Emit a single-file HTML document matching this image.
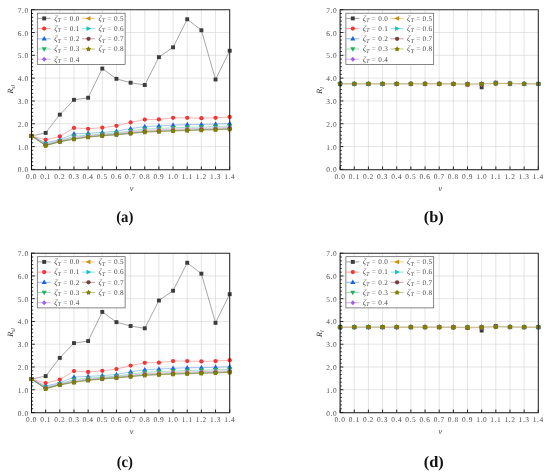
<!DOCTYPE html>
<html><head><meta charset="utf-8"><title>Figure</title>
<style>
html,body{margin:0;padding:0;background:#fff;}
svg{display:block}
text{font-family:"Liberation Serif",serif;text-rendering:geometricPrecision;}
.tk{font-size:7.4px;fill:#4c4c4c;letter-spacing:0.6px}
.ax{font-size:8px;fill:#333;font-style:italic}
.sub{font-size:5.6px;font-style:italic}
.lg{font-size:7.2px;fill:#4a4a4a;letter-spacing:0.3px}
.z{font-style:italic;font-size:8px}
.cap{font-size:16px;fill:#111;font-weight:bold;font-family:"Liberation Serif","DejaVu Serif",serif}
</style></head><body>
<svg width="550" height="476" viewBox="0 0 550 476">
<rect width="550" height="476" fill="#fff"/>
<path d="M45.66 9.7V169.39999999999998M59.81 9.7V169.39999999999998M73.97 9.7V169.39999999999998M88.13 9.7V169.39999999999998M102.29 9.7V169.39999999999998M116.44 9.7V169.39999999999998M130.60 9.7V169.39999999999998M144.76 9.7V169.39999999999998M158.91 9.7V169.39999999999998M173.07 9.7V169.39999999999998M187.23 9.7V169.39999999999998M201.39 9.7V169.39999999999998M215.54 9.7V169.39999999999998M31.5 146.59H229.7M31.5 123.77H229.7M31.5 100.96H229.7M31.5 78.14H229.7M31.5 55.33H229.7M31.5 32.51H229.7" stroke="#d4d4d4" stroke-width="0.6" fill="none"/>
<path d="M31.50 135.86L45.66 132.90L59.81 114.65L73.97 99.82L88.13 97.76L102.29 68.56L116.44 78.83L130.60 82.71L144.76 84.99L158.91 57.15L173.07 47.34L187.23 19.28L201.39 30.23L215.54 79.51L229.70 50.77" stroke="#3c3c3c" stroke-width="0.5" fill="none" stroke-opacity="0.9"/>
<rect x="29.55" y="133.91" width="3.90" height="3.90" fill="#3c3c3c"/>
<rect x="43.71" y="130.95" width="3.90" height="3.90" fill="#3c3c3c"/>
<rect x="57.86" y="112.70" width="3.90" height="3.90" fill="#3c3c3c"/>
<rect x="72.02" y="97.87" width="3.90" height="3.90" fill="#3c3c3c"/>
<rect x="86.18" y="95.81" width="3.90" height="3.90" fill="#3c3c3c"/>
<rect x="100.34" y="66.61" width="3.90" height="3.90" fill="#3c3c3c"/>
<rect x="114.49" y="76.88" width="3.90" height="3.90" fill="#3c3c3c"/>
<rect x="128.65" y="80.76" width="3.90" height="3.90" fill="#3c3c3c"/>
<rect x="142.81" y="83.04" width="3.90" height="3.90" fill="#3c3c3c"/>
<rect x="156.96" y="55.20" width="3.90" height="3.90" fill="#3c3c3c"/>
<rect x="171.12" y="45.39" width="3.90" height="3.90" fill="#3c3c3c"/>
<rect x="185.28" y="17.33" width="3.90" height="3.90" fill="#3c3c3c"/>
<rect x="199.44" y="28.28" width="3.90" height="3.90" fill="#3c3c3c"/>
<rect x="213.59" y="77.56" width="3.90" height="3.90" fill="#3c3c3c"/>
<rect x="227.75" y="48.82" width="3.90" height="3.90" fill="#3c3c3c"/>
<path d="M31.50 135.86L45.66 139.86L59.81 136.43L73.97 127.88L88.13 128.79L102.29 127.65L116.44 125.82L130.60 122.40L144.76 119.55L158.91 119.44L173.07 117.84L187.23 117.84L201.39 118.18L215.54 117.84L229.70 116.93" stroke="#f23535" stroke-width="0.5" fill="none" stroke-opacity="0.75"/>
<circle cx="31.50" cy="135.86" r="2.15" fill="#f23535"/>
<circle cx="45.66" cy="139.86" r="2.15" fill="#f23535"/>
<circle cx="59.81" cy="136.43" r="2.15" fill="#f23535"/>
<circle cx="73.97" cy="127.88" r="2.15" fill="#f23535"/>
<circle cx="88.13" cy="128.79" r="2.15" fill="#f23535"/>
<circle cx="102.29" cy="127.65" r="2.15" fill="#f23535"/>
<circle cx="116.44" cy="125.82" r="2.15" fill="#f23535"/>
<circle cx="130.60" cy="122.40" r="2.15" fill="#f23535"/>
<circle cx="144.76" cy="119.55" r="2.15" fill="#f23535"/>
<circle cx="158.91" cy="119.44" r="2.15" fill="#f23535"/>
<circle cx="173.07" cy="117.84" r="2.15" fill="#f23535"/>
<circle cx="187.23" cy="117.84" r="2.15" fill="#f23535"/>
<circle cx="201.39" cy="118.18" r="2.15" fill="#f23535"/>
<circle cx="215.54" cy="117.84" r="2.15" fill="#f23535"/>
<circle cx="229.70" cy="116.93" r="2.15" fill="#f23535"/>
<path d="M31.50 135.86L45.66 142.71L59.81 139.74L73.97 133.81L88.13 133.24L102.29 132.44L116.44 131.30L130.60 128.56L144.76 126.58L158.91 125.82L173.07 125.14L187.23 124.57L201.39 124.46L215.54 124.00L229.70 123.54" stroke="#1a62e0" stroke-width="0.5" fill="none" stroke-opacity="0.75"/>
<polygon points="31.50,133.01 28.93,137.63 34.06,137.63" fill="#1a62e0"/>
<polygon points="45.66,139.86 43.09,144.47 48.22,144.47" fill="#1a62e0"/>
<polygon points="59.81,136.89 57.25,141.51 62.38,141.51" fill="#1a62e0"/>
<polygon points="73.97,130.96 71.41,135.58 76.54,135.58" fill="#1a62e0"/>
<polygon points="88.13,130.39 85.56,135.01 90.69,135.01" fill="#1a62e0"/>
<polygon points="102.29,129.59 99.72,134.21 104.85,134.21" fill="#1a62e0"/>
<polygon points="116.44,128.45 113.88,133.07 119.01,133.07" fill="#1a62e0"/>
<polygon points="130.60,125.71 128.03,130.33 133.16,130.33" fill="#1a62e0"/>
<polygon points="144.76,123.73 142.19,128.34 147.32,128.34" fill="#1a62e0"/>
<polygon points="158.91,122.97 156.35,127.59 161.48,127.59" fill="#1a62e0"/>
<polygon points="173.07,122.29 170.51,126.91 175.64,126.91" fill="#1a62e0"/>
<polygon points="187.23,121.72 184.66,126.34 189.79,126.34" fill="#1a62e0"/>
<polygon points="201.39,121.61 198.82,126.22 203.95,126.22" fill="#1a62e0"/>
<polygon points="215.54,121.15 212.98,125.77 218.11,125.77" fill="#1a62e0"/>
<polygon points="229.70,120.69 227.13,125.31 232.26,125.31" fill="#1a62e0"/>
<path d="M31.50 135.86L45.66 144.04L59.81 140.67L73.97 136.27L88.13 135.04L102.29 133.98L116.44 132.89L130.60 130.82L144.76 129.11L158.91 128.43L173.07 127.81L187.23 127.29L201.39 127.04L215.54 126.62L229.70 126.11" stroke="#22b060" stroke-width="0.5" fill="none" stroke-opacity="0.75"/>
<polygon points="31.50,138.71 28.93,134.10 34.06,134.10" fill="#22b060"/>
<polygon points="45.66,146.89 43.09,142.27 48.22,142.27" fill="#22b060"/>
<polygon points="59.81,143.52 57.25,138.90 62.38,138.90" fill="#22b060"/>
<polygon points="73.97,139.12 71.41,134.51 76.54,134.51" fill="#22b060"/>
<polygon points="88.13,137.89 85.56,133.27 90.69,133.27" fill="#22b060"/>
<polygon points="102.29,136.83 99.72,132.21 104.85,132.21" fill="#22b060"/>
<polygon points="116.44,135.74 113.88,131.12 119.01,131.12" fill="#22b060"/>
<polygon points="130.60,133.67 128.03,129.05 133.16,129.05" fill="#22b060"/>
<polygon points="144.76,131.96 142.19,127.35 147.32,127.35" fill="#22b060"/>
<polygon points="158.91,131.28 156.35,126.67 161.48,126.67" fill="#22b060"/>
<polygon points="173.07,130.66 170.51,126.04 175.64,126.04" fill="#22b060"/>
<polygon points="187.23,130.14 184.66,125.52 189.79,125.52" fill="#22b060"/>
<polygon points="201.39,129.89 198.82,125.28 203.95,125.28" fill="#22b060"/>
<polygon points="215.54,129.47 212.98,124.85 218.11,124.85" fill="#22b060"/>
<polygon points="229.70,128.96 227.13,124.34 232.26,124.34" fill="#22b060"/>
<path d="M31.50 135.86L45.66 144.72L59.81 141.14L73.97 137.53L88.13 135.95L102.29 134.77L116.44 133.70L130.60 131.98L144.76 130.41L158.91 129.77L173.07 129.17L187.23 128.68L201.39 128.37L215.54 127.96L229.70 127.42" stroke="#a25af0" stroke-width="0.5" fill="none" stroke-opacity="0.75"/>
<polygon points="31.50,133.31 29.26,135.86 31.50,138.41 33.74,135.86" fill="#a25af0"/>
<polygon points="45.66,142.17 43.41,144.72 45.66,147.27 47.90,144.72" fill="#a25af0"/>
<polygon points="59.81,138.59 57.57,141.14 59.81,143.69 62.06,141.14" fill="#a25af0"/>
<polygon points="73.97,134.98 71.73,137.53 73.97,140.08 76.22,137.53" fill="#a25af0"/>
<polygon points="88.13,133.40 85.88,135.95 88.13,138.50 90.37,135.95" fill="#a25af0"/>
<polygon points="102.29,132.22 100.04,134.77 102.29,137.32 104.53,134.77" fill="#a25af0"/>
<polygon points="116.44,131.15 114.20,133.70 116.44,136.25 118.69,133.70" fill="#a25af0"/>
<polygon points="130.60,129.43 128.36,131.98 130.60,134.53 132.84,131.98" fill="#a25af0"/>
<polygon points="144.76,127.86 142.51,130.41 144.76,132.96 147.00,130.41" fill="#a25af0"/>
<polygon points="158.91,127.22 156.67,129.77 158.91,132.32 161.16,129.77" fill="#a25af0"/>
<polygon points="173.07,126.62 170.83,129.17 173.07,131.72 175.32,129.17" fill="#a25af0"/>
<polygon points="187.23,126.13 184.98,128.68 187.23,131.23 189.47,128.68" fill="#a25af0"/>
<polygon points="201.39,125.82 199.14,128.37 201.39,130.92 203.63,128.37" fill="#a25af0"/>
<polygon points="215.54,125.41 213.30,127.96 215.54,130.51 217.79,127.96" fill="#a25af0"/>
<polygon points="229.70,124.87 227.46,127.42 229.70,129.97 231.94,127.42" fill="#a25af0"/>
<path d="M31.50 135.86L45.66 145.14L59.81 141.43L73.97 138.30L88.13 136.51L102.29 135.25L116.44 134.20L130.60 132.68L144.76 131.20L158.91 130.58L173.07 130.00L187.23 129.53L201.39 129.17L215.54 128.77L229.70 128.22" stroke="#c8900c" stroke-width="0.5" fill="none" stroke-opacity="0.75"/>
<polygon points="28.75,135.86 33.42,133.66 33.42,138.06" fill="#c8900c"/>
<polygon points="42.91,145.14 47.58,142.94 47.58,147.34" fill="#c8900c"/>
<polygon points="57.06,141.43 61.74,139.23 61.74,143.63" fill="#c8900c"/>
<polygon points="71.22,138.30 75.90,136.10 75.90,140.50" fill="#c8900c"/>
<polygon points="85.38,136.51 90.05,134.31 90.05,138.71" fill="#c8900c"/>
<polygon points="99.54,135.25 104.21,133.05 104.21,137.45" fill="#c8900c"/>
<polygon points="113.69,134.20 118.37,132.00 118.37,136.40" fill="#c8900c"/>
<polygon points="127.85,132.68 132.53,130.48 132.53,134.88" fill="#c8900c"/>
<polygon points="142.01,131.20 146.68,129.00 146.68,133.40" fill="#c8900c"/>
<polygon points="156.16,130.58 160.84,128.38 160.84,132.78" fill="#c8900c"/>
<polygon points="170.32,130.00 175.00,127.80 175.00,132.20" fill="#c8900c"/>
<polygon points="184.48,129.53 189.15,127.33 189.15,131.73" fill="#c8900c"/>
<polygon points="198.64,129.17 203.31,126.97 203.31,131.37" fill="#c8900c"/>
<polygon points="212.79,128.77 217.47,126.57 217.47,130.97" fill="#c8900c"/>
<polygon points="226.95,128.22 231.62,126.02 231.62,130.42" fill="#c8900c"/>
<path d="M31.50 135.86L45.66 145.38L59.81 141.59L73.97 138.74L88.13 136.83L102.29 135.52L116.44 134.48L130.60 133.08L144.76 131.65L158.91 131.04L173.07 130.48L187.23 130.01L201.39 129.63L215.54 129.24L229.70 128.68" stroke="#12c2c2" stroke-width="0.5" fill="none" stroke-opacity="0.75"/>
<polygon points="34.25,135.86 29.57,133.66 29.57,138.06" fill="#12c2c2"/>
<polygon points="48.41,145.38 43.73,143.18 43.73,147.58" fill="#12c2c2"/>
<polygon points="62.56,141.59 57.89,139.39 57.89,143.79" fill="#12c2c2"/>
<polygon points="76.72,138.74 72.05,136.54 72.05,140.94" fill="#12c2c2"/>
<polygon points="90.88,136.83 86.20,134.63 86.20,139.03" fill="#12c2c2"/>
<polygon points="105.04,135.52 100.36,133.32 100.36,137.72" fill="#12c2c2"/>
<polygon points="119.19,134.48 114.52,132.28 114.52,136.68" fill="#12c2c2"/>
<polygon points="133.35,133.08 128.67,130.88 128.67,135.28" fill="#12c2c2"/>
<polygon points="147.51,131.65 142.83,129.45 142.83,133.85" fill="#12c2c2"/>
<polygon points="161.66,131.04 156.99,128.84 156.99,133.24" fill="#12c2c2"/>
<polygon points="175.82,130.48 171.15,128.28 171.15,132.68" fill="#12c2c2"/>
<polygon points="189.98,130.01 185.30,127.81 185.30,132.21" fill="#12c2c2"/>
<polygon points="204.14,129.63 199.46,127.43 199.46,131.83" fill="#12c2c2"/>
<polygon points="218.29,129.24 213.62,127.04 213.62,131.44" fill="#12c2c2"/>
<polygon points="232.45,128.68 227.77,126.48 227.77,130.88" fill="#12c2c2"/>
<path d="M31.50 135.86L45.66 145.55L59.81 141.71L73.97 139.07L88.13 137.07L102.29 135.73L116.44 134.69L130.60 133.38L144.76 131.99L158.91 131.39L173.07 130.83L187.23 130.37L201.39 129.98L215.54 129.58L229.70 129.02" stroke="#7a3c3c" stroke-width="0.5" fill="none" stroke-opacity="0.75"/>
<circle cx="31.50" cy="135.86" r="2.15" fill="#7a3c3c"/>
<circle cx="45.66" cy="145.55" r="2.15" fill="#7a3c3c"/>
<circle cx="59.81" cy="141.71" r="2.15" fill="#7a3c3c"/>
<circle cx="73.97" cy="139.07" r="2.15" fill="#7a3c3c"/>
<circle cx="88.13" cy="137.07" r="2.15" fill="#7a3c3c"/>
<circle cx="102.29" cy="135.73" r="2.15" fill="#7a3c3c"/>
<circle cx="116.44" cy="134.69" r="2.15" fill="#7a3c3c"/>
<circle cx="130.60" cy="133.38" r="2.15" fill="#7a3c3c"/>
<circle cx="144.76" cy="131.99" r="2.15" fill="#7a3c3c"/>
<circle cx="158.91" cy="131.39" r="2.15" fill="#7a3c3c"/>
<circle cx="173.07" cy="130.83" r="2.15" fill="#7a3c3c"/>
<circle cx="187.23" cy="130.37" r="2.15" fill="#7a3c3c"/>
<circle cx="201.39" cy="129.98" r="2.15" fill="#7a3c3c"/>
<circle cx="215.54" cy="129.58" r="2.15" fill="#7a3c3c"/>
<circle cx="229.70" cy="129.02" r="2.15" fill="#7a3c3c"/>
<path d="M31.50 135.86L45.66 145.67L59.81 141.79L73.97 139.29L88.13 137.23L102.29 135.86L116.44 134.84L130.60 133.58L144.76 132.21L158.91 131.62L173.07 131.07L187.23 130.62L201.39 130.21L215.54 129.82L229.70 129.25" stroke="#808000" stroke-width="0.5" fill="none" stroke-opacity="0.75"/>
<polygon points="31.50,133.06 32.49,134.50 34.16,135.00 33.10,136.38 33.15,138.13 31.50,137.54 29.85,138.13 29.90,136.38 28.84,135.00 30.51,134.50" fill="#808000"/>
<polygon points="45.66,142.87 46.64,144.31 48.32,144.81 47.25,146.19 47.30,147.94 45.66,147.35 44.01,147.94 44.06,146.19 42.99,144.81 44.67,144.31" fill="#808000"/>
<polygon points="59.81,138.99 60.80,140.44 62.48,140.93 61.41,142.31 61.46,144.06 59.81,143.47 58.17,144.06 58.22,142.31 57.15,140.93 58.83,140.44" fill="#808000"/>
<polygon points="73.97,136.49 74.96,137.93 76.63,138.42 75.57,139.80 75.62,141.55 73.97,140.97 72.33,141.55 72.37,139.80 71.31,138.42 72.98,137.93" fill="#808000"/>
<polygon points="88.13,134.43 89.12,135.87 90.79,136.37 89.73,137.75 89.77,139.50 88.13,138.91 86.48,139.50 86.53,137.75 85.47,136.37 87.14,135.87" fill="#808000"/>
<polygon points="102.29,133.06 103.27,134.50 104.95,135.00 103.88,136.38 103.93,138.13 102.29,137.54 100.64,138.13 100.69,136.38 99.62,135.00 101.30,134.50" fill="#808000"/>
<polygon points="116.44,132.04 117.43,133.48 119.11,133.97 118.04,135.36 118.09,137.10 116.44,136.52 114.80,137.10 114.85,135.36 113.78,133.97 115.46,133.48" fill="#808000"/>
<polygon points="130.60,130.78 131.59,132.22 133.26,132.72 132.20,134.10 132.25,135.85 130.60,135.26 128.95,135.85 129.00,134.10 127.94,132.72 129.61,132.22" fill="#808000"/>
<polygon points="144.76,129.41 145.74,130.85 147.42,131.35 146.35,132.73 146.40,134.48 144.76,133.89 143.11,134.48 143.16,132.73 142.09,131.35 143.77,130.85" fill="#808000"/>
<polygon points="158.91,128.82 159.90,130.26 161.58,130.75 160.51,132.14 160.56,133.88 158.91,133.30 157.27,133.88 157.32,132.14 156.25,130.75 157.93,130.26" fill="#808000"/>
<polygon points="173.07,128.27 174.06,129.71 175.73,130.21 174.67,131.59 174.72,133.34 173.07,132.75 171.43,133.34 171.47,131.59 170.41,130.21 172.08,129.71" fill="#808000"/>
<polygon points="187.23,127.82 188.22,129.26 189.89,129.75 188.83,131.13 188.87,132.88 187.23,132.30 185.58,132.88 185.63,131.13 184.57,129.75 186.24,129.26" fill="#808000"/>
<polygon points="201.39,127.41 202.37,128.85 204.05,129.34 202.98,130.72 203.03,132.47 201.39,131.89 199.74,132.47 199.79,130.72 198.72,129.34 200.40,128.85" fill="#808000"/>
<polygon points="215.54,127.02 216.53,128.46 218.21,128.95 217.14,130.34 217.19,132.08 215.54,131.50 213.90,132.08 213.95,130.34 212.88,128.95 214.56,128.46" fill="#808000"/>
<polygon points="229.70,126.45 230.69,127.89 232.36,128.38 231.30,129.77 231.35,131.51 229.70,130.93 228.05,131.51 228.10,129.77 227.04,128.38 228.71,127.89" fill="#808000"/>
<path d="M31.50 169.39999999999998v-3M45.66 169.39999999999998v-3M59.81 169.39999999999998v-3M73.97 169.39999999999998v-3M88.13 169.39999999999998v-3M102.29 169.39999999999998v-3M116.44 169.39999999999998v-3M130.60 169.39999999999998v-3M144.76 169.39999999999998v-3M158.91 169.39999999999998v-3M173.07 169.39999999999998v-3M187.23 169.39999999999998v-3M201.39 169.39999999999998v-3M215.54 169.39999999999998v-3M229.70 169.39999999999998v-3M31.5 169.40h3.3M31.5 165.60h1.7M31.5 161.80h1.7M31.5 157.99h1.7M31.5 154.19h1.7M31.5 150.39h1.7M31.5 146.59h3.3M31.5 142.78h1.7M31.5 138.98h1.7M31.5 135.18h1.7M31.5 131.38h1.7M31.5 127.57h1.7M31.5 123.77h3.3M31.5 119.97h1.7M31.5 116.17h1.7M31.5 112.36h1.7M31.5 108.56h1.7M31.5 104.76h1.7M31.5 100.96h3.3M31.5 97.15h1.7M31.5 93.35h1.7M31.5 89.55h1.7M31.5 85.75h1.7M31.5 81.95h1.7M31.5 78.14h3.3M31.5 74.34h1.7M31.5 70.54h1.7M31.5 66.74h1.7M31.5 62.93h1.7M31.5 59.13h1.7M31.5 55.33h3.3M31.5 51.53h1.7M31.5 47.72h1.7M31.5 43.92h1.7M31.5 40.12h1.7M31.5 36.32h1.7M31.5 32.51h3.3M31.5 28.71h1.7M31.5 24.91h1.7M31.5 21.11h1.7M31.5 17.30h1.7M31.5 13.50h1.7M31.5 9.70h3.3" stroke="#111" stroke-width="0.9" fill="none"/>
<path d="M31.5 9.2V169.7H230.2" stroke="#111" stroke-width="1.05" fill="none"/>
<path d="M31.5 9.7H229.7V169.39999999999998" stroke="#262626" stroke-width="1.05" fill="none"/>
<text class="tk" x="31.50" y="178.80" text-anchor="middle">0.0</text>
<text class="tk" x="45.66" y="178.80" text-anchor="middle">0.1</text>
<text class="tk" x="59.81" y="178.80" text-anchor="middle">0.2</text>
<text class="tk" x="73.97" y="178.80" text-anchor="middle">0.3</text>
<text class="tk" x="88.13" y="178.80" text-anchor="middle">0.4</text>
<text class="tk" x="102.29" y="178.80" text-anchor="middle">0.5</text>
<text class="tk" x="116.44" y="178.80" text-anchor="middle">0.6</text>
<text class="tk" x="130.60" y="178.80" text-anchor="middle">0.7</text>
<text class="tk" x="144.76" y="178.80" text-anchor="middle">0.8</text>
<text class="tk" x="158.91" y="178.80" text-anchor="middle">0.9</text>
<text class="tk" x="173.07" y="178.80" text-anchor="middle">1.0</text>
<text class="tk" x="187.23" y="178.80" text-anchor="middle">1.1</text>
<text class="tk" x="201.39" y="178.80" text-anchor="middle">1.2</text>
<text class="tk" x="215.54" y="178.80" text-anchor="middle">1.3</text>
<text class="tk" x="229.70" y="178.80" text-anchor="middle">1.4</text>
<text class="tk" x="28.70" y="172.40" text-anchor="end">0.0</text>
<text class="tk" x="28.70" y="149.59" text-anchor="end">1.0</text>
<text class="tk" x="28.70" y="126.77" text-anchor="end">2.0</text>
<text class="tk" x="28.70" y="103.96" text-anchor="end">3.0</text>
<text class="tk" x="28.70" y="81.14" text-anchor="end">4.0</text>
<text class="tk" x="28.70" y="58.33" text-anchor="end">5.0</text>
<text class="tk" x="28.70" y="35.51" text-anchor="end">6.0</text>
<text class="tk" x="28.70" y="12.70" text-anchor="end">7.0</text>
<text class="ax" x="131.60" y="190.90" text-anchor="middle">v</text>
<text class="ax" transform="translate(13.20 89.25) rotate(-90)" text-anchor="middle">R<tspan class="sub" dy="1.5">sl</tspan></text>
<rect x="37.3" y="13.2" width="87.8" height="51.2" fill="#fff" stroke="#555" stroke-width="0.7"/>
<path d="M37.70 18.40h13" stroke="#3c3c3c" stroke-width="0.6" stroke-opacity="0.8"/>
<rect x="42.25" y="16.45" width="3.90" height="3.90" fill="#3c3c3c"/>
<text class="lg" x="54.20" y="20.70"><tspan class="z">ζ</tspan><tspan class="sub" dy="1.4">T</tspan><tspan dy="-1.4"> = 0.0</tspan></text>
<path d="M37.70 28.60h13" stroke="#f23535" stroke-width="0.6" stroke-opacity="0.8"/>
<circle cx="44.20" cy="28.60" r="2.15" fill="#f23535"/>
<text class="lg" x="54.20" y="30.90"><tspan class="z">ζ</tspan><tspan class="sub" dy="1.4">T</tspan><tspan dy="-1.4"> = 0.1</tspan></text>
<path d="M37.70 38.80h13" stroke="#1a62e0" stroke-width="0.6" stroke-opacity="0.8"/>
<polygon points="44.20,35.95 41.63,40.57 46.76,40.57" fill="#1a62e0"/>
<text class="lg" x="54.20" y="41.10"><tspan class="z">ζ</tspan><tspan class="sub" dy="1.4">T</tspan><tspan dy="-1.4"> = 0.2</tspan></text>
<path d="M37.70 49.00h13" stroke="#22b060" stroke-width="0.6" stroke-opacity="0.8"/>
<polygon points="44.20,51.85 41.63,47.23 46.76,47.23" fill="#22b060"/>
<text class="lg" x="54.20" y="51.30"><tspan class="z">ζ</tspan><tspan class="sub" dy="1.4">T</tspan><tspan dy="-1.4"> = 0.3</tspan></text>
<path d="M37.70 59.20h13" stroke="#a25af0" stroke-width="0.6" stroke-opacity="0.8"/>
<polygon points="44.20,56.65 41.96,59.20 44.20,61.75 46.44,59.20" fill="#a25af0"/>
<text class="lg" x="54.20" y="61.50"><tspan class="z">ζ</tspan><tspan class="sub" dy="1.4">T</tspan><tspan dy="-1.4"> = 0.4</tspan></text>
<path d="M82.00 18.40h13" stroke="#c8900c" stroke-width="0.6" stroke-opacity="0.8"/>
<polygon points="85.61,18.40 90.52,16.09 90.52,20.71" fill="#c8900c"/>
<text class="lg" x="98.50" y="20.70"><tspan class="z">ζ</tspan><tspan class="sub" dy="1.4">T</tspan><tspan dy="-1.4"> = 0.5</tspan></text>
<path d="M82.00 28.60h13" stroke="#12c2c2" stroke-width="0.6" stroke-opacity="0.8"/>
<polygon points="91.39,28.60 86.48,26.29 86.48,30.91" fill="#12c2c2"/>
<text class="lg" x="98.50" y="30.90"><tspan class="z">ζ</tspan><tspan class="sub" dy="1.4">T</tspan><tspan dy="-1.4"> = 0.6</tspan></text>
<path d="M82.00 38.80h13" stroke="#7a3c3c" stroke-width="0.6" stroke-opacity="0.8"/>
<circle cx="88.50" cy="38.80" r="2.15" fill="#7a3c3c"/>
<text class="lg" x="98.50" y="41.10"><tspan class="z">ζ</tspan><tspan class="sub" dy="1.4">T</tspan><tspan dy="-1.4"> = 0.7</tspan></text>
<path d="M82.00 49.00h13" stroke="#808000" stroke-width="0.6" stroke-opacity="0.8"/>
<polygon points="88.50,46.20 89.49,47.64 91.16,48.13 90.10,49.52 90.15,51.27 88.50,50.68 86.85,51.27 86.90,49.52 85.84,48.13 87.51,47.64" fill="#808000"/>
<text class="lg" x="98.50" y="51.30"><tspan class="z">ζ</tspan><tspan class="sub" dy="1.4">T</tspan><tspan dy="-1.4"> = 0.8</tspan></text>
<text class="cap" x="124.80" y="222.00" text-anchor="middle" textLength="17.2" lengthAdjust="spacingAndGlyphs">(a)</text>
<path d="M354.26 9.7V169.39999999999998M368.41 9.7V169.39999999999998M382.57 9.7V169.39999999999998M396.73 9.7V169.39999999999998M410.89 9.7V169.39999999999998M425.04 9.7V169.39999999999998M439.20 9.7V169.39999999999998M453.36 9.7V169.39999999999998M467.51 9.7V169.39999999999998M481.67 9.7V169.39999999999998M495.83 9.7V169.39999999999998M509.99 9.7V169.39999999999998M524.14 9.7V169.39999999999998M340.1 146.59H538.3M340.1 123.77H538.3M340.1 100.96H538.3M340.1 78.14H538.3M340.1 55.33H538.3M340.1 32.51H538.3" stroke="#d4d4d4" stroke-width="0.6" fill="none"/>
<path d="M340.10 83.85L354.26 83.85L368.41 83.85L382.57 83.85L396.73 83.85L410.89 83.85L425.04 83.85L439.20 83.85L453.36 84.07L467.51 84.53L481.67 87.27L495.83 82.71L509.99 83.62L524.14 83.85L538.30 83.85" stroke="#3c3c3c" stroke-width="0.5" fill="none" stroke-opacity="0.15"/>
<rect x="338.15" y="81.90" width="3.90" height="3.90" fill="#3c3c3c"/>
<rect x="352.31" y="81.90" width="3.90" height="3.90" fill="#3c3c3c"/>
<rect x="366.46" y="81.90" width="3.90" height="3.90" fill="#3c3c3c"/>
<rect x="380.62" y="81.90" width="3.90" height="3.90" fill="#3c3c3c"/>
<rect x="394.78" y="81.90" width="3.90" height="3.90" fill="#3c3c3c"/>
<rect x="408.94" y="81.90" width="3.90" height="3.90" fill="#3c3c3c"/>
<rect x="423.09" y="81.90" width="3.90" height="3.90" fill="#3c3c3c"/>
<rect x="437.25" y="81.90" width="3.90" height="3.90" fill="#3c3c3c"/>
<rect x="451.41" y="82.12" width="3.90" height="3.90" fill="#3c3c3c"/>
<rect x="465.56" y="82.58" width="3.90" height="3.90" fill="#3c3c3c"/>
<rect x="479.72" y="85.32" width="3.90" height="3.90" fill="#3c3c3c"/>
<rect x="493.88" y="80.76" width="3.90" height="3.90" fill="#3c3c3c"/>
<rect x="508.04" y="81.67" width="3.90" height="3.90" fill="#3c3c3c"/>
<rect x="522.19" y="81.90" width="3.90" height="3.90" fill="#3c3c3c"/>
<rect x="536.35" y="81.90" width="3.90" height="3.90" fill="#3c3c3c"/>
<path d="M340.10 83.85L354.26 83.85L368.41 83.85L382.57 83.85L396.73 83.85L410.89 83.85L425.04 83.85L439.20 83.85L453.36 84.07L467.51 84.76L481.67 84.53L495.83 83.39L509.99 83.85L524.14 83.85L538.30 83.85" stroke="#f23535" stroke-width="0.5" fill="none" stroke-opacity="0.15"/>
<circle cx="340.10" cy="83.85" r="2.15" fill="#f23535"/>
<circle cx="354.26" cy="83.85" r="2.15" fill="#f23535"/>
<circle cx="368.41" cy="83.85" r="2.15" fill="#f23535"/>
<circle cx="382.57" cy="83.85" r="2.15" fill="#f23535"/>
<circle cx="396.73" cy="83.85" r="2.15" fill="#f23535"/>
<circle cx="410.89" cy="83.85" r="2.15" fill="#f23535"/>
<circle cx="425.04" cy="83.85" r="2.15" fill="#f23535"/>
<circle cx="439.20" cy="83.85" r="2.15" fill="#f23535"/>
<circle cx="453.36" cy="84.07" r="2.15" fill="#f23535"/>
<circle cx="467.51" cy="84.76" r="2.15" fill="#f23535"/>
<circle cx="481.67" cy="84.53" r="2.15" fill="#f23535"/>
<circle cx="495.83" cy="83.39" r="2.15" fill="#f23535"/>
<circle cx="509.99" cy="83.85" r="2.15" fill="#f23535"/>
<circle cx="524.14" cy="83.85" r="2.15" fill="#f23535"/>
<circle cx="538.30" cy="83.85" r="2.15" fill="#f23535"/>
<path d="M340.10 83.85L354.26 83.85L368.41 83.85L382.57 83.85L396.73 83.85L410.89 83.85L425.04 83.85L439.20 83.85L453.36 83.85L467.51 84.07L481.67 84.07L495.83 82.93L509.99 83.62L524.14 83.85L538.30 83.85" stroke="#1a62e0" stroke-width="0.5" fill="none" stroke-opacity="0.15"/>
<polygon points="340.10,81.00 337.54,85.61 342.67,85.61" fill="#1a62e0"/>
<polygon points="354.26,81.00 351.69,85.61 356.82,85.61" fill="#1a62e0"/>
<polygon points="368.41,81.00 365.85,85.61 370.98,85.61" fill="#1a62e0"/>
<polygon points="382.57,81.00 380.01,85.61 385.14,85.61" fill="#1a62e0"/>
<polygon points="396.73,81.00 394.16,85.61 399.29,85.61" fill="#1a62e0"/>
<polygon points="410.89,81.00 408.32,85.61 413.45,85.61" fill="#1a62e0"/>
<polygon points="425.04,81.00 422.48,85.61 427.61,85.61" fill="#1a62e0"/>
<polygon points="439.20,81.00 436.64,85.61 441.77,85.61" fill="#1a62e0"/>
<polygon points="453.36,81.00 450.79,85.61 455.92,85.61" fill="#1a62e0"/>
<polygon points="467.51,81.22 464.95,85.84 470.08,85.84" fill="#1a62e0"/>
<polygon points="481.67,81.22 479.11,85.84 484.24,85.84" fill="#1a62e0"/>
<polygon points="495.83,80.08 493.26,84.70 498.39,84.70" fill="#1a62e0"/>
<polygon points="509.99,80.77 507.42,85.39 512.55,85.39" fill="#1a62e0"/>
<polygon points="524.14,81.00 521.58,85.61 526.71,85.61" fill="#1a62e0"/>
<polygon points="538.30,81.00 535.73,85.61 540.87,85.61" fill="#1a62e0"/>
<path d="M340.10 83.85L354.26 83.85L368.41 83.85L382.57 83.85L396.73 83.85L410.89 83.85L425.04 83.85L439.20 83.85L453.36 83.85L467.51 84.07L481.67 83.85L495.83 83.39L509.99 83.62L524.14 83.85L538.30 83.85" stroke="#22b060" stroke-width="0.5" fill="none" stroke-opacity="0.15"/>
<polygon points="340.10,86.70 337.54,82.08 342.67,82.08" fill="#22b060"/>
<polygon points="354.26,86.70 351.69,82.08 356.82,82.08" fill="#22b060"/>
<polygon points="368.41,86.70 365.85,82.08 370.98,82.08" fill="#22b060"/>
<polygon points="382.57,86.70 380.01,82.08 385.14,82.08" fill="#22b060"/>
<polygon points="396.73,86.70 394.16,82.08 399.29,82.08" fill="#22b060"/>
<polygon points="410.89,86.70 408.32,82.08 413.45,82.08" fill="#22b060"/>
<polygon points="425.04,86.70 422.48,82.08 427.61,82.08" fill="#22b060"/>
<polygon points="439.20,86.70 436.64,82.08 441.77,82.08" fill="#22b060"/>
<polygon points="453.36,86.70 450.79,82.08 455.92,82.08" fill="#22b060"/>
<polygon points="467.51,86.92 464.95,82.31 470.08,82.31" fill="#22b060"/>
<polygon points="481.67,86.70 479.11,82.08 484.24,82.08" fill="#22b060"/>
<polygon points="495.83,86.24 493.26,81.62 498.39,81.62" fill="#22b060"/>
<polygon points="509.99,86.47 507.42,81.85 512.55,81.85" fill="#22b060"/>
<polygon points="524.14,86.70 521.58,82.08 526.71,82.08" fill="#22b060"/>
<polygon points="538.30,86.70 535.73,82.08 540.87,82.08" fill="#22b060"/>
<path d="M340.10 83.85L354.26 83.85L368.41 83.85L382.57 83.85L396.73 83.85L410.89 83.85L425.04 83.85L439.20 83.85L453.36 83.85L467.51 84.07L481.67 83.85L495.83 83.39L509.99 83.62L524.14 83.85L538.30 83.85" stroke="#a25af0" stroke-width="0.5" fill="none" stroke-opacity="0.15"/>
<polygon points="340.10,81.30 337.86,83.85 340.10,86.40 342.34,83.85" fill="#a25af0"/>
<polygon points="354.26,81.30 352.01,83.85 354.26,86.40 356.50,83.85" fill="#a25af0"/>
<polygon points="368.41,81.30 366.17,83.85 368.41,86.40 370.66,83.85" fill="#a25af0"/>
<polygon points="382.57,81.30 380.33,83.85 382.57,86.40 384.82,83.85" fill="#a25af0"/>
<polygon points="396.73,81.30 394.48,83.85 396.73,86.40 398.97,83.85" fill="#a25af0"/>
<polygon points="410.89,81.30 408.64,83.85 410.89,86.40 413.13,83.85" fill="#a25af0"/>
<polygon points="425.04,81.30 422.80,83.85 425.04,86.40 427.29,83.85" fill="#a25af0"/>
<polygon points="439.20,81.30 436.96,83.85 439.20,86.40 441.44,83.85" fill="#a25af0"/>
<polygon points="453.36,81.30 451.11,83.85 453.36,86.40 455.60,83.85" fill="#a25af0"/>
<polygon points="467.51,81.52 465.27,84.07 467.51,86.62 469.76,84.07" fill="#a25af0"/>
<polygon points="481.67,81.30 479.43,83.85 481.67,86.40 483.92,83.85" fill="#a25af0"/>
<polygon points="495.83,80.84 493.58,83.39 495.83,85.94 498.07,83.39" fill="#a25af0"/>
<polygon points="509.99,81.07 507.74,83.62 509.99,86.17 512.23,83.62" fill="#a25af0"/>
<polygon points="524.14,81.30 521.90,83.85 524.14,86.40 526.39,83.85" fill="#a25af0"/>
<polygon points="538.30,81.30 536.06,83.85 538.30,86.40 540.54,83.85" fill="#a25af0"/>
<path d="M340.10 83.85L354.26 83.85L368.41 83.85L382.57 83.85L396.73 83.85L410.89 83.85L425.04 83.85L439.20 83.85L453.36 83.85L467.51 84.07L481.67 83.85L495.83 83.39L509.99 83.62L524.14 83.85L538.30 83.85" stroke="#c8900c" stroke-width="0.5" fill="none" stroke-opacity="0.15"/>
<polygon points="337.35,83.85 342.03,81.65 342.03,86.05" fill="#c8900c"/>
<polygon points="351.51,83.85 356.18,81.65 356.18,86.05" fill="#c8900c"/>
<polygon points="365.66,83.85 370.34,81.65 370.34,86.05" fill="#c8900c"/>
<polygon points="379.82,83.85 384.50,81.65 384.50,86.05" fill="#c8900c"/>
<polygon points="393.98,83.85 398.65,81.65 398.65,86.05" fill="#c8900c"/>
<polygon points="408.14,83.85 412.81,81.65 412.81,86.05" fill="#c8900c"/>
<polygon points="422.29,83.85 426.97,81.65 426.97,86.05" fill="#c8900c"/>
<polygon points="436.45,83.85 441.13,81.65 441.13,86.05" fill="#c8900c"/>
<polygon points="450.61,83.85 455.28,81.65 455.28,86.05" fill="#c8900c"/>
<polygon points="464.76,84.07 469.44,81.87 469.44,86.27" fill="#c8900c"/>
<polygon points="478.92,83.85 483.60,81.65 483.60,86.05" fill="#c8900c"/>
<polygon points="493.08,83.39 497.75,81.19 497.75,85.59" fill="#c8900c"/>
<polygon points="507.24,83.62 511.91,81.42 511.91,85.82" fill="#c8900c"/>
<polygon points="521.39,83.85 526.07,81.65 526.07,86.05" fill="#c8900c"/>
<polygon points="535.55,83.85 540.22,81.65 540.22,86.05" fill="#c8900c"/>
<path d="M340.10 83.85L354.26 83.85L368.41 83.85L382.57 83.85L396.73 83.85L410.89 83.85L425.04 83.85L439.20 83.85L453.36 83.85L467.51 84.07L481.67 83.85L495.83 83.39L509.99 83.62L524.14 83.85L538.30 83.85" stroke="#12c2c2" stroke-width="0.5" fill="none" stroke-opacity="0.15"/>
<polygon points="342.85,83.85 338.18,81.65 338.18,86.05" fill="#12c2c2"/>
<polygon points="357.01,83.85 352.33,81.65 352.33,86.05" fill="#12c2c2"/>
<polygon points="371.16,83.85 366.49,81.65 366.49,86.05" fill="#12c2c2"/>
<polygon points="385.32,83.85 380.65,81.65 380.65,86.05" fill="#12c2c2"/>
<polygon points="399.48,83.85 394.80,81.65 394.80,86.05" fill="#12c2c2"/>
<polygon points="413.64,83.85 408.96,81.65 408.96,86.05" fill="#12c2c2"/>
<polygon points="427.79,83.85 423.12,81.65 423.12,86.05" fill="#12c2c2"/>
<polygon points="441.95,83.85 437.28,81.65 437.28,86.05" fill="#12c2c2"/>
<polygon points="456.11,83.85 451.43,81.65 451.43,86.05" fill="#12c2c2"/>
<polygon points="470.26,84.07 465.59,81.87 465.59,86.27" fill="#12c2c2"/>
<polygon points="484.42,83.85 479.75,81.65 479.75,86.05" fill="#12c2c2"/>
<polygon points="498.58,83.39 493.90,81.19 493.90,85.59" fill="#12c2c2"/>
<polygon points="512.74,83.62 508.06,81.42 508.06,85.82" fill="#12c2c2"/>
<polygon points="526.89,83.85 522.22,81.65 522.22,86.05" fill="#12c2c2"/>
<polygon points="541.05,83.85 536.38,81.65 536.38,86.05" fill="#12c2c2"/>
<path d="M340.10 83.85L354.26 83.85L368.41 83.85L382.57 83.85L396.73 83.85L410.89 83.85L425.04 83.85L439.20 83.85L453.36 83.85L467.51 84.07L481.67 83.85L495.83 83.39L509.99 83.62L524.14 83.85L538.30 83.85" stroke="#7a3c3c" stroke-width="0.5" fill="none" stroke-opacity="0.15"/>
<circle cx="340.10" cy="83.85" r="2.15" fill="#7a3c3c"/>
<circle cx="354.26" cy="83.85" r="2.15" fill="#7a3c3c"/>
<circle cx="368.41" cy="83.85" r="2.15" fill="#7a3c3c"/>
<circle cx="382.57" cy="83.85" r="2.15" fill="#7a3c3c"/>
<circle cx="396.73" cy="83.85" r="2.15" fill="#7a3c3c"/>
<circle cx="410.89" cy="83.85" r="2.15" fill="#7a3c3c"/>
<circle cx="425.04" cy="83.85" r="2.15" fill="#7a3c3c"/>
<circle cx="439.20" cy="83.85" r="2.15" fill="#7a3c3c"/>
<circle cx="453.36" cy="83.85" r="2.15" fill="#7a3c3c"/>
<circle cx="467.51" cy="84.07" r="2.15" fill="#7a3c3c"/>
<circle cx="481.67" cy="83.85" r="2.15" fill="#7a3c3c"/>
<circle cx="495.83" cy="83.39" r="2.15" fill="#7a3c3c"/>
<circle cx="509.99" cy="83.62" r="2.15" fill="#7a3c3c"/>
<circle cx="524.14" cy="83.85" r="2.15" fill="#7a3c3c"/>
<circle cx="538.30" cy="83.85" r="2.15" fill="#7a3c3c"/>
<path d="M340.10 83.85L354.26 83.85L368.41 83.85L382.57 83.85L396.73 83.85L410.89 83.85L425.04 83.85L439.20 83.85L453.36 83.85L467.51 84.07L481.67 83.85L495.83 83.39L509.99 83.62L524.14 83.85L538.30 83.85" stroke="#d0aa3c" stroke-width="0.5" fill="none" stroke-opacity="0.9"/>
<polygon points="340.10,81.05 341.09,82.49 342.76,82.98 341.70,84.37 341.75,86.11 340.10,85.53 338.45,86.11 338.50,84.37 337.44,82.98 339.11,82.49" fill="#808000"/>
<polygon points="354.26,81.05 355.24,82.49 356.92,82.98 355.85,84.37 355.90,86.11 354.26,85.53 352.61,86.11 352.66,84.37 351.59,82.98 353.27,82.49" fill="#808000"/>
<polygon points="368.41,81.05 369.40,82.49 371.08,82.98 370.01,84.37 370.06,86.11 368.41,85.53 366.77,86.11 366.82,84.37 365.75,82.98 367.43,82.49" fill="#808000"/>
<polygon points="382.57,81.05 383.56,82.49 385.23,82.98 384.17,84.37 384.22,86.11 382.57,85.53 380.93,86.11 380.97,84.37 379.91,82.98 381.58,82.49" fill="#808000"/>
<polygon points="396.73,81.05 397.72,82.49 399.39,82.98 398.33,84.37 398.37,86.11 396.73,85.53 395.08,86.11 395.13,84.37 394.07,82.98 395.74,82.49" fill="#808000"/>
<polygon points="410.89,81.05 411.87,82.49 413.55,82.98 412.48,84.37 412.53,86.11 410.89,85.53 409.24,86.11 409.29,84.37 408.22,82.98 409.90,82.49" fill="#808000"/>
<polygon points="425.04,81.05 426.03,82.49 427.71,82.98 426.64,84.37 426.69,86.11 425.04,85.53 423.40,86.11 423.45,84.37 422.38,82.98 424.06,82.49" fill="#808000"/>
<polygon points="439.20,81.05 440.19,82.49 441.86,82.98 440.80,84.37 440.85,86.11 439.20,85.53 437.55,86.11 437.60,84.37 436.54,82.98 438.21,82.49" fill="#808000"/>
<polygon points="453.36,81.05 454.34,82.49 456.02,82.98 454.95,84.37 455.00,86.11 453.36,85.53 451.71,86.11 451.76,84.37 450.69,82.98 452.37,82.49" fill="#808000"/>
<polygon points="467.51,81.27 468.50,82.72 470.18,83.21 469.11,84.59 469.16,86.34 467.51,85.75 465.87,86.34 465.92,84.59 464.85,83.21 466.53,82.72" fill="#808000"/>
<polygon points="481.67,81.05 482.66,82.49 484.33,82.98 483.27,84.37 483.32,86.11 481.67,85.53 480.03,86.11 480.07,84.37 479.01,82.98 480.68,82.49" fill="#808000"/>
<polygon points="495.83,80.59 496.82,82.03 498.49,82.52 497.43,83.91 497.47,85.66 495.83,85.07 494.18,85.66 494.23,83.91 493.17,82.52 494.84,82.03" fill="#808000"/>
<polygon points="509.99,80.82 510.97,82.26 512.65,82.75 511.58,84.14 511.63,85.88 509.99,85.30 508.34,85.88 508.39,84.14 507.32,82.75 509.00,82.26" fill="#808000"/>
<polygon points="524.14,81.05 525.13,82.49 526.81,82.98 525.74,84.37 525.79,86.11 524.14,85.53 522.50,86.11 522.55,84.37 521.48,82.98 523.16,82.49" fill="#808000"/>
<polygon points="538.30,81.05 539.29,82.49 540.96,82.98 539.90,84.37 539.95,86.11 538.30,85.53 536.65,86.11 536.70,84.37 535.64,82.98 537.31,82.49" fill="#808000"/>
<path d="M340.10 169.39999999999998v-3M354.26 169.39999999999998v-3M368.41 169.39999999999998v-3M382.57 169.39999999999998v-3M396.73 169.39999999999998v-3M410.89 169.39999999999998v-3M425.04 169.39999999999998v-3M439.20 169.39999999999998v-3M453.36 169.39999999999998v-3M467.51 169.39999999999998v-3M481.67 169.39999999999998v-3M495.83 169.39999999999998v-3M509.99 169.39999999999998v-3M524.14 169.39999999999998v-3M538.30 169.39999999999998v-3M340.1 169.40h3.3M340.1 165.60h1.7M340.1 161.80h1.7M340.1 157.99h1.7M340.1 154.19h1.7M340.1 150.39h1.7M340.1 146.59h3.3M340.1 142.78h1.7M340.1 138.98h1.7M340.1 135.18h1.7M340.1 131.38h1.7M340.1 127.57h1.7M340.1 123.77h3.3M340.1 119.97h1.7M340.1 116.17h1.7M340.1 112.36h1.7M340.1 108.56h1.7M340.1 104.76h1.7M340.1 100.96h3.3M340.1 97.15h1.7M340.1 93.35h1.7M340.1 89.55h1.7M340.1 85.75h1.7M340.1 81.95h1.7M340.1 78.14h3.3M340.1 74.34h1.7M340.1 70.54h1.7M340.1 66.74h1.7M340.1 62.93h1.7M340.1 59.13h1.7M340.1 55.33h3.3M340.1 51.53h1.7M340.1 47.72h1.7M340.1 43.92h1.7M340.1 40.12h1.7M340.1 36.32h1.7M340.1 32.51h3.3M340.1 28.71h1.7M340.1 24.91h1.7M340.1 21.11h1.7M340.1 17.30h1.7M340.1 13.50h1.7M340.1 9.70h3.3" stroke="#111" stroke-width="0.9" fill="none"/>
<path d="M340.1 9.2V169.7H538.8" stroke="#111" stroke-width="1.05" fill="none"/>
<path d="M340.1 9.7H538.3V169.39999999999998" stroke="#262626" stroke-width="1.05" fill="none"/>
<text class="tk" x="340.10" y="178.80" text-anchor="middle">0.0</text>
<text class="tk" x="354.26" y="178.80" text-anchor="middle">0.1</text>
<text class="tk" x="368.41" y="178.80" text-anchor="middle">0.2</text>
<text class="tk" x="382.57" y="178.80" text-anchor="middle">0.3</text>
<text class="tk" x="396.73" y="178.80" text-anchor="middle">0.4</text>
<text class="tk" x="410.89" y="178.80" text-anchor="middle">0.5</text>
<text class="tk" x="425.04" y="178.80" text-anchor="middle">0.6</text>
<text class="tk" x="439.20" y="178.80" text-anchor="middle">0.7</text>
<text class="tk" x="453.36" y="178.80" text-anchor="middle">0.8</text>
<text class="tk" x="467.51" y="178.80" text-anchor="middle">0.9</text>
<text class="tk" x="481.67" y="178.80" text-anchor="middle">1.0</text>
<text class="tk" x="495.83" y="178.80" text-anchor="middle">1.1</text>
<text class="tk" x="509.99" y="178.80" text-anchor="middle">1.2</text>
<text class="tk" x="524.14" y="178.80" text-anchor="middle">1.3</text>
<text class="tk" x="538.30" y="178.80" text-anchor="middle">1.4</text>
<text class="tk" x="337.30" y="172.40" text-anchor="end">0.0</text>
<text class="tk" x="337.30" y="149.59" text-anchor="end">1.0</text>
<text class="tk" x="337.30" y="126.77" text-anchor="end">2.0</text>
<text class="tk" x="337.30" y="103.96" text-anchor="end">3.0</text>
<text class="tk" x="337.30" y="81.14" text-anchor="end">4.0</text>
<text class="tk" x="337.30" y="58.33" text-anchor="end">5.0</text>
<text class="tk" x="337.30" y="35.51" text-anchor="end">6.0</text>
<text class="tk" x="337.30" y="12.70" text-anchor="end">7.0</text>
<text class="ax" x="440.20" y="190.90" text-anchor="middle">v</text>
<text class="ax" transform="translate(322.20 90.45) rotate(-90)" text-anchor="middle">R<tspan class="sub" dy="1.5">l</tspan></text>
<rect x="345.90000000000003" y="13.2" width="87.8" height="51.2" fill="#fff" stroke="#555" stroke-width="0.7"/>
<path d="M346.30 18.40h13" stroke="#3c3c3c" stroke-width="0.6" stroke-opacity="0.8"/>
<rect x="350.85" y="16.45" width="3.90" height="3.90" fill="#3c3c3c"/>
<text class="lg" x="362.80" y="20.70"><tspan class="z">ζ</tspan><tspan class="sub" dy="1.4">T</tspan><tspan dy="-1.4"> = 0.0</tspan></text>
<path d="M346.30 28.60h13" stroke="#f23535" stroke-width="0.6" stroke-opacity="0.8"/>
<circle cx="352.80" cy="28.60" r="2.15" fill="#f23535"/>
<text class="lg" x="362.80" y="30.90"><tspan class="z">ζ</tspan><tspan class="sub" dy="1.4">T</tspan><tspan dy="-1.4"> = 0.1</tspan></text>
<path d="M346.30 38.80h13" stroke="#1a62e0" stroke-width="0.6" stroke-opacity="0.8"/>
<polygon points="352.80,35.95 350.24,40.57 355.37,40.57" fill="#1a62e0"/>
<text class="lg" x="362.80" y="41.10"><tspan class="z">ζ</tspan><tspan class="sub" dy="1.4">T</tspan><tspan dy="-1.4"> = 0.2</tspan></text>
<path d="M346.30 49.00h13" stroke="#22b060" stroke-width="0.6" stroke-opacity="0.8"/>
<polygon points="352.80,51.85 350.24,47.23 355.37,47.23" fill="#22b060"/>
<text class="lg" x="362.80" y="51.30"><tspan class="z">ζ</tspan><tspan class="sub" dy="1.4">T</tspan><tspan dy="-1.4"> = 0.3</tspan></text>
<path d="M346.30 59.20h13" stroke="#a25af0" stroke-width="0.6" stroke-opacity="0.8"/>
<polygon points="352.80,56.65 350.56,59.20 352.80,61.75 355.04,59.20" fill="#a25af0"/>
<text class="lg" x="362.80" y="61.50"><tspan class="z">ζ</tspan><tspan class="sub" dy="1.4">T</tspan><tspan dy="-1.4"> = 0.4</tspan></text>
<path d="M390.60 18.40h13" stroke="#c8900c" stroke-width="0.6" stroke-opacity="0.8"/>
<polygon points="394.21,18.40 399.12,16.09 399.12,20.71" fill="#c8900c"/>
<text class="lg" x="407.10" y="20.70"><tspan class="z">ζ</tspan><tspan class="sub" dy="1.4">T</tspan><tspan dy="-1.4"> = 0.5</tspan></text>
<path d="M390.60 28.60h13" stroke="#12c2c2" stroke-width="0.6" stroke-opacity="0.8"/>
<polygon points="399.99,28.60 395.08,26.29 395.08,30.91" fill="#12c2c2"/>
<text class="lg" x="407.10" y="30.90"><tspan class="z">ζ</tspan><tspan class="sub" dy="1.4">T</tspan><tspan dy="-1.4"> = 0.6</tspan></text>
<path d="M390.60 38.80h13" stroke="#7a3c3c" stroke-width="0.6" stroke-opacity="0.8"/>
<circle cx="397.10" cy="38.80" r="2.15" fill="#7a3c3c"/>
<text class="lg" x="407.10" y="41.10"><tspan class="z">ζ</tspan><tspan class="sub" dy="1.4">T</tspan><tspan dy="-1.4"> = 0.7</tspan></text>
<path d="M390.60 49.00h13" stroke="#808000" stroke-width="0.6" stroke-opacity="0.8"/>
<polygon points="397.10,46.20 398.09,47.64 399.76,48.13 398.70,49.52 398.75,51.27 397.10,50.68 395.45,51.27 395.50,49.52 394.44,48.13 396.11,47.64" fill="#808000"/>
<text class="lg" x="407.10" y="51.30"><tspan class="z">ζ</tspan><tspan class="sub" dy="1.4">T</tspan><tspan dy="-1.4"> = 0.8</tspan></text>
<text class="cap" x="433.80" y="222.00" text-anchor="middle" textLength="20" lengthAdjust="spacingAndGlyphs">(b)</text>
<path d="M45.66 253.2V412.5M59.81 253.2V412.5M73.97 253.2V412.5M88.13 253.2V412.5M102.29 253.2V412.5M116.44 253.2V412.5M130.60 253.2V412.5M144.76 253.2V412.5M158.91 253.2V412.5M173.07 253.2V412.5M187.23 253.2V412.5M201.39 253.2V412.5M215.54 253.2V412.5M31.5 389.74H229.7M31.5 366.99H229.7M31.5 344.23H229.7M31.5 321.47H229.7M31.5 298.71H229.7M31.5 275.96H229.7" stroke="#d4d4d4" stroke-width="0.6" fill="none"/>
<path d="M31.50 379.05L45.66 376.09L59.81 357.88L73.97 343.09L88.13 341.04L102.29 311.91L116.44 322.15L130.60 326.02L144.76 328.30L158.91 300.53L173.07 290.75L187.23 262.76L201.39 273.68L215.54 322.84L229.70 294.16" stroke="#3c3c3c" stroke-width="0.5" fill="none" stroke-opacity="0.9"/>
<rect x="29.55" y="377.10" width="3.90" height="3.90" fill="#3c3c3c"/>
<rect x="43.71" y="374.14" width="3.90" height="3.90" fill="#3c3c3c"/>
<rect x="57.86" y="355.93" width="3.90" height="3.90" fill="#3c3c3c"/>
<rect x="72.02" y="341.14" width="3.90" height="3.90" fill="#3c3c3c"/>
<rect x="86.18" y="339.09" width="3.90" height="3.90" fill="#3c3c3c"/>
<rect x="100.34" y="309.96" width="3.90" height="3.90" fill="#3c3c3c"/>
<rect x="114.49" y="320.20" width="3.90" height="3.90" fill="#3c3c3c"/>
<rect x="128.65" y="324.07" width="3.90" height="3.90" fill="#3c3c3c"/>
<rect x="142.81" y="326.35" width="3.90" height="3.90" fill="#3c3c3c"/>
<rect x="156.96" y="298.58" width="3.90" height="3.90" fill="#3c3c3c"/>
<rect x="171.12" y="288.80" width="3.90" height="3.90" fill="#3c3c3c"/>
<rect x="185.28" y="260.81" width="3.90" height="3.90" fill="#3c3c3c"/>
<rect x="199.44" y="271.73" width="3.90" height="3.90" fill="#3c3c3c"/>
<rect x="213.59" y="320.89" width="3.90" height="3.90" fill="#3c3c3c"/>
<rect x="227.75" y="292.21" width="3.90" height="3.90" fill="#3c3c3c"/>
<path d="M31.50 379.05L45.66 383.03L59.81 379.62L73.97 371.08L88.13 371.99L102.29 370.85L116.44 369.03L130.60 365.62L144.76 362.78L158.91 362.66L173.07 361.07L187.23 361.07L201.39 361.41L215.54 361.07L229.70 360.16" stroke="#f23535" stroke-width="0.5" fill="none" stroke-opacity="0.75"/>
<circle cx="31.50" cy="379.05" r="2.15" fill="#f23535"/>
<circle cx="45.66" cy="383.03" r="2.15" fill="#f23535"/>
<circle cx="59.81" cy="379.62" r="2.15" fill="#f23535"/>
<circle cx="73.97" cy="371.08" r="2.15" fill="#f23535"/>
<circle cx="88.13" cy="371.99" r="2.15" fill="#f23535"/>
<circle cx="102.29" cy="370.85" r="2.15" fill="#f23535"/>
<circle cx="116.44" cy="369.03" r="2.15" fill="#f23535"/>
<circle cx="130.60" cy="365.62" r="2.15" fill="#f23535"/>
<circle cx="144.76" cy="362.78" r="2.15" fill="#f23535"/>
<circle cx="158.91" cy="362.66" r="2.15" fill="#f23535"/>
<circle cx="173.07" cy="361.07" r="2.15" fill="#f23535"/>
<circle cx="187.23" cy="361.07" r="2.15" fill="#f23535"/>
<circle cx="201.39" cy="361.41" r="2.15" fill="#f23535"/>
<circle cx="215.54" cy="361.07" r="2.15" fill="#f23535"/>
<circle cx="229.70" cy="360.16" r="2.15" fill="#f23535"/>
<path d="M31.50 379.05L45.66 385.87L59.81 382.92L73.97 377.00L88.13 376.43L102.29 375.63L116.44 374.50L130.60 371.76L144.76 369.78L158.91 369.03L173.07 368.35L187.23 367.78L201.39 367.67L215.54 367.21L229.70 366.76" stroke="#1a62e0" stroke-width="0.5" fill="none" stroke-opacity="0.75"/>
<polygon points="31.50,376.20 28.93,380.81 34.06,380.81" fill="#1a62e0"/>
<polygon points="45.66,383.02 43.09,387.64 48.22,387.64" fill="#1a62e0"/>
<polygon points="59.81,380.07 57.25,384.68 62.38,384.68" fill="#1a62e0"/>
<polygon points="73.97,374.15 71.41,378.77 76.54,378.77" fill="#1a62e0"/>
<polygon points="88.13,373.58 85.56,378.20 90.69,378.20" fill="#1a62e0"/>
<polygon points="102.29,372.78 99.72,377.40 104.85,377.40" fill="#1a62e0"/>
<polygon points="116.44,371.65 113.88,376.26 119.01,376.26" fill="#1a62e0"/>
<polygon points="130.60,368.91 128.03,373.53 133.16,373.53" fill="#1a62e0"/>
<polygon points="144.76,366.93 142.19,371.55 147.32,371.55" fill="#1a62e0"/>
<polygon points="158.91,366.18 156.35,370.80 161.48,370.80" fill="#1a62e0"/>
<polygon points="173.07,365.50 170.51,370.12 175.64,370.12" fill="#1a62e0"/>
<polygon points="187.23,364.93 184.66,369.55 189.79,369.55" fill="#1a62e0"/>
<polygon points="201.39,364.82 198.82,369.44 203.95,369.44" fill="#1a62e0"/>
<polygon points="215.54,364.36 212.98,368.98 218.11,368.98" fill="#1a62e0"/>
<polygon points="229.70,363.91 227.13,368.53 232.26,368.53" fill="#1a62e0"/>
<path d="M31.50 379.05L45.66 387.21L59.81 383.84L73.97 379.46L88.13 378.22L102.29 377.17L116.44 376.08L130.60 374.02L144.76 372.31L158.91 371.63L173.07 371.01L187.23 370.50L201.39 370.25L215.54 369.82L229.70 369.32" stroke="#22b060" stroke-width="0.5" fill="none" stroke-opacity="0.75"/>
<polygon points="31.50,381.90 28.93,377.28 34.06,377.28" fill="#22b060"/>
<polygon points="45.66,390.06 43.09,385.44 48.22,385.44" fill="#22b060"/>
<polygon points="59.81,386.69 57.25,382.07 62.38,382.07" fill="#22b060"/>
<polygon points="73.97,382.31 71.41,377.69 76.54,377.69" fill="#22b060"/>
<polygon points="88.13,381.07 85.56,376.46 90.69,376.46" fill="#22b060"/>
<polygon points="102.29,380.02 99.72,375.40 104.85,375.40" fill="#22b060"/>
<polygon points="116.44,378.93 113.88,374.32 119.01,374.32" fill="#22b060"/>
<polygon points="130.60,376.87 128.03,372.25 133.16,372.25" fill="#22b060"/>
<polygon points="144.76,375.16 142.19,370.55 147.32,370.55" fill="#22b060"/>
<polygon points="158.91,374.48 156.35,369.87 161.48,369.87" fill="#22b060"/>
<polygon points="173.07,373.86 170.51,369.25 175.64,369.25" fill="#22b060"/>
<polygon points="187.23,373.35 184.66,368.73 189.79,368.73" fill="#22b060"/>
<polygon points="201.39,373.10 198.82,368.48 203.95,368.48" fill="#22b060"/>
<polygon points="215.54,372.67 212.98,368.06 218.11,368.06" fill="#22b060"/>
<polygon points="229.70,372.17 227.13,367.55 232.26,367.55" fill="#22b060"/>
<path d="M31.50 379.05L45.66 387.89L59.81 384.31L73.97 380.71L88.13 379.14L102.29 377.95L116.44 376.89L130.60 375.17L144.76 373.61L158.91 372.96L173.07 372.37L187.23 371.88L201.39 371.57L215.54 371.16L229.70 370.63" stroke="#a25af0" stroke-width="0.5" fill="none" stroke-opacity="0.75"/>
<polygon points="31.50,376.50 29.26,379.05 31.50,381.60 33.74,379.05" fill="#a25af0"/>
<polygon points="45.66,385.34 43.41,387.89 45.66,390.44 47.90,387.89" fill="#a25af0"/>
<polygon points="59.81,381.76 57.57,384.31 59.81,386.86 62.06,384.31" fill="#a25af0"/>
<polygon points="73.97,378.16 71.73,380.71 73.97,383.26 76.22,380.71" fill="#a25af0"/>
<polygon points="88.13,376.59 85.88,379.14 88.13,381.69 90.37,379.14" fill="#a25af0"/>
<polygon points="102.29,375.40 100.04,377.95 102.29,380.50 104.53,377.95" fill="#a25af0"/>
<polygon points="116.44,374.34 114.20,376.89 116.44,379.44 118.69,376.89" fill="#a25af0"/>
<polygon points="130.60,372.62 128.36,375.17 130.60,377.72 132.84,375.17" fill="#a25af0"/>
<polygon points="144.76,371.06 142.51,373.61 144.76,376.16 147.00,373.61" fill="#a25af0"/>
<polygon points="158.91,370.41 156.67,372.96 158.91,375.51 161.16,372.96" fill="#a25af0"/>
<polygon points="173.07,369.82 170.83,372.37 173.07,374.92 175.32,372.37" fill="#a25af0"/>
<polygon points="187.23,369.33 184.98,371.88 187.23,374.43 189.47,371.88" fill="#a25af0"/>
<polygon points="201.39,369.02 199.14,371.57 201.39,374.12 203.63,371.57" fill="#a25af0"/>
<polygon points="215.54,368.61 213.30,371.16 215.54,373.71 217.79,371.16" fill="#a25af0"/>
<polygon points="229.70,368.08 227.46,370.63 229.70,373.18 231.94,370.63" fill="#a25af0"/>
<path d="M31.50 379.05L45.66 388.30L59.81 384.60L73.97 381.48L88.13 379.70L102.29 378.43L116.44 377.39L130.60 375.87L144.76 374.39L158.91 373.77L173.07 373.20L187.23 372.73L201.39 372.37L215.54 371.97L229.70 371.42" stroke="#c8900c" stroke-width="0.5" fill="none" stroke-opacity="0.75"/>
<polygon points="28.75,379.05 33.42,376.85 33.42,381.25" fill="#c8900c"/>
<polygon points="42.91,388.30 47.58,386.10 47.58,390.50" fill="#c8900c"/>
<polygon points="57.06,384.60 61.74,382.40 61.74,386.80" fill="#c8900c"/>
<polygon points="71.22,381.48 75.90,379.28 75.90,383.68" fill="#c8900c"/>
<polygon points="85.38,379.70 90.05,377.50 90.05,381.90" fill="#c8900c"/>
<polygon points="99.54,378.43 104.21,376.23 104.21,380.63" fill="#c8900c"/>
<polygon points="113.69,377.39 118.37,375.19 118.37,379.59" fill="#c8900c"/>
<polygon points="127.85,375.87 132.53,373.67 132.53,378.07" fill="#c8900c"/>
<polygon points="142.01,374.39 146.68,372.19 146.68,376.59" fill="#c8900c"/>
<polygon points="156.16,373.77 160.84,371.57 160.84,375.97" fill="#c8900c"/>
<polygon points="170.32,373.20 175.00,371.00 175.00,375.40" fill="#c8900c"/>
<polygon points="184.48,372.73 189.15,370.53 189.15,374.93" fill="#c8900c"/>
<polygon points="198.64,372.37 203.31,370.17 203.31,374.57" fill="#c8900c"/>
<polygon points="212.79,371.97 217.47,369.77 217.47,374.17" fill="#c8900c"/>
<polygon points="226.95,371.42 231.62,369.22 231.62,373.62" fill="#c8900c"/>
<path d="M31.50 379.05L45.66 388.54L59.81 384.76L73.97 381.91L88.13 380.01L102.29 378.71L116.44 377.67L130.60 376.27L144.76 374.84L158.91 374.24L173.07 373.68L187.23 373.21L201.39 372.83L215.54 372.44L229.70 371.88" stroke="#12c2c2" stroke-width="0.5" fill="none" stroke-opacity="0.75"/>
<polygon points="34.25,379.05 29.57,376.85 29.57,381.25" fill="#12c2c2"/>
<polygon points="48.41,388.54 43.73,386.34 43.73,390.74" fill="#12c2c2"/>
<polygon points="62.56,384.76 57.89,382.56 57.89,386.96" fill="#12c2c2"/>
<polygon points="76.72,381.91 72.05,379.71 72.05,384.11" fill="#12c2c2"/>
<polygon points="90.88,380.01 86.20,377.81 86.20,382.21" fill="#12c2c2"/>
<polygon points="105.04,378.71 100.36,376.51 100.36,380.91" fill="#12c2c2"/>
<polygon points="119.19,377.67 114.52,375.47 114.52,379.87" fill="#12c2c2"/>
<polygon points="133.35,376.27 128.67,374.07 128.67,378.47" fill="#12c2c2"/>
<polygon points="147.51,374.84 142.83,372.64 142.83,377.04" fill="#12c2c2"/>
<polygon points="161.66,374.24 156.99,372.04 156.99,376.44" fill="#12c2c2"/>
<polygon points="175.82,373.68 171.15,371.48 171.15,375.88" fill="#12c2c2"/>
<polygon points="189.98,373.21 185.30,371.01 185.30,375.41" fill="#12c2c2"/>
<polygon points="204.14,372.83 199.46,370.63 199.46,375.03" fill="#12c2c2"/>
<polygon points="218.29,372.44 213.62,370.24 213.62,374.64" fill="#12c2c2"/>
<polygon points="232.45,371.88 227.77,369.68 227.77,374.08" fill="#12c2c2"/>
<path d="M31.50 379.05L45.66 388.71L59.81 384.88L73.97 382.24L88.13 380.25L102.29 378.91L116.44 377.88L130.60 376.57L144.76 375.18L158.91 374.58L173.07 374.03L187.23 373.57L201.39 373.17L215.54 372.78L229.70 372.22" stroke="#7a3c3c" stroke-width="0.5" fill="none" stroke-opacity="0.75"/>
<circle cx="31.50" cy="379.05" r="2.15" fill="#7a3c3c"/>
<circle cx="45.66" cy="388.71" r="2.15" fill="#7a3c3c"/>
<circle cx="59.81" cy="384.88" r="2.15" fill="#7a3c3c"/>
<circle cx="73.97" cy="382.24" r="2.15" fill="#7a3c3c"/>
<circle cx="88.13" cy="380.25" r="2.15" fill="#7a3c3c"/>
<circle cx="102.29" cy="378.91" r="2.15" fill="#7a3c3c"/>
<circle cx="116.44" cy="377.88" r="2.15" fill="#7a3c3c"/>
<circle cx="130.60" cy="376.57" r="2.15" fill="#7a3c3c"/>
<circle cx="144.76" cy="375.18" r="2.15" fill="#7a3c3c"/>
<circle cx="158.91" cy="374.58" r="2.15" fill="#7a3c3c"/>
<circle cx="173.07" cy="374.03" r="2.15" fill="#7a3c3c"/>
<circle cx="187.23" cy="373.57" r="2.15" fill="#7a3c3c"/>
<circle cx="201.39" cy="373.17" r="2.15" fill="#7a3c3c"/>
<circle cx="215.54" cy="372.78" r="2.15" fill="#7a3c3c"/>
<circle cx="229.70" cy="372.22" r="2.15" fill="#7a3c3c"/>
<path d="M31.50 379.05L45.66 388.83L59.81 384.96L73.97 382.46L88.13 380.41L102.29 379.05L116.44 378.02L130.60 376.77L144.76 375.41L158.91 374.81L173.07 374.27L187.23 373.81L201.39 373.40L215.54 373.02L229.70 372.45" stroke="#808000" stroke-width="0.5" fill="none" stroke-opacity="0.75"/>
<polygon points="31.50,376.25 32.49,377.69 34.16,378.18 33.10,379.57 33.15,381.31 31.50,380.73 29.85,381.31 29.90,379.57 28.84,378.18 30.51,377.69" fill="#808000"/>
<polygon points="45.66,386.03 46.64,387.47 48.32,387.97 47.25,389.35 47.30,391.10 45.66,390.51 44.01,391.10 44.06,389.35 42.99,387.97 44.67,387.47" fill="#808000"/>
<polygon points="59.81,382.16 60.80,383.60 62.48,384.10 61.41,385.48 61.46,387.23 59.81,386.64 58.17,387.23 58.22,385.48 57.15,384.10 58.83,383.60" fill="#808000"/>
<polygon points="73.97,379.66 74.96,381.10 76.63,381.60 75.57,382.98 75.62,384.73 73.97,384.14 72.33,384.73 72.37,382.98 71.31,381.60 72.98,381.10" fill="#808000"/>
<polygon points="88.13,377.61 89.12,379.05 90.79,379.55 89.73,380.93 89.77,382.68 88.13,382.09 86.48,382.68 86.53,380.93 85.47,379.55 87.14,379.05" fill="#808000"/>
<polygon points="102.29,376.25 103.27,377.69 104.95,378.18 103.88,379.57 103.93,381.31 102.29,380.73 100.64,381.31 100.69,379.57 99.62,378.18 101.30,377.69" fill="#808000"/>
<polygon points="116.44,375.22 117.43,376.66 119.11,377.16 118.04,378.54 118.09,380.29 116.44,379.70 114.80,380.29 114.85,378.54 113.78,377.16 115.46,376.66" fill="#808000"/>
<polygon points="130.60,373.97 131.59,375.41 133.26,375.91 132.20,377.29 132.25,379.04 130.60,378.45 128.95,379.04 129.00,377.29 127.94,375.91 129.61,375.41" fill="#808000"/>
<polygon points="144.76,372.61 145.74,374.05 147.42,374.54 146.35,375.93 146.40,377.67 144.76,377.09 143.11,377.67 143.16,375.93 142.09,374.54 143.77,374.05" fill="#808000"/>
<polygon points="158.91,372.01 159.90,373.46 161.58,373.95 160.51,375.33 160.56,377.08 158.91,376.49 157.27,377.08 157.32,375.33 156.25,373.95 157.93,373.46" fill="#808000"/>
<polygon points="173.07,371.47 174.06,372.91 175.73,373.40 174.67,374.79 174.72,376.53 173.07,375.95 171.43,376.53 171.47,374.79 170.41,373.40 172.08,372.91" fill="#808000"/>
<polygon points="187.23,371.01 188.22,372.45 189.89,372.95 188.83,374.33 188.87,376.08 187.23,375.49 185.58,376.08 185.63,374.33 184.57,372.95 186.24,372.45" fill="#808000"/>
<polygon points="201.39,370.60 202.37,372.04 204.05,372.54 202.98,373.92 203.03,375.67 201.39,375.08 199.74,375.67 199.79,373.92 198.72,372.54 200.40,372.04" fill="#808000"/>
<polygon points="215.54,370.22 216.53,371.66 218.21,372.15 217.14,373.54 217.19,375.28 215.54,374.70 213.90,375.28 213.95,373.54 212.88,372.15 214.56,371.66" fill="#808000"/>
<polygon points="229.70,369.65 230.69,371.09 232.36,371.58 231.30,372.97 231.35,374.71 229.70,374.13 228.05,374.71 228.10,372.97 227.04,371.58 228.71,371.09" fill="#808000"/>
<path d="M31.50 412.5v-3M45.66 412.5v-3M59.81 412.5v-3M73.97 412.5v-3M88.13 412.5v-3M102.29 412.5v-3M116.44 412.5v-3M130.60 412.5v-3M144.76 412.5v-3M158.91 412.5v-3M173.07 412.5v-3M187.23 412.5v-3M201.39 412.5v-3M215.54 412.5v-3M229.70 412.5v-3M31.5 412.50h3.3M31.5 408.71h1.7M31.5 404.91h1.7M31.5 401.12h1.7M31.5 397.33h1.7M31.5 393.54h1.7M31.5 389.74h3.3M31.5 385.95h1.7M31.5 382.16h1.7M31.5 378.36h1.7M31.5 374.57h1.7M31.5 370.78h1.7M31.5 366.99h3.3M31.5 363.19h1.7M31.5 359.40h1.7M31.5 355.61h1.7M31.5 351.81h1.7M31.5 348.02h1.7M31.5 344.23h3.3M31.5 340.44h1.7M31.5 336.64h1.7M31.5 332.85h1.7M31.5 329.06h1.7M31.5 325.26h1.7M31.5 321.47h3.3M31.5 317.68h1.7M31.5 313.89h1.7M31.5 310.09h1.7M31.5 306.30h1.7M31.5 302.51h1.7M31.5 298.71h3.3M31.5 294.92h1.7M31.5 291.13h1.7M31.5 287.34h1.7M31.5 283.54h1.7M31.5 279.75h1.7M31.5 275.96h3.3M31.5 272.16h1.7M31.5 268.37h1.7M31.5 264.58h1.7M31.5 260.79h1.7M31.5 256.99h1.7M31.5 253.20h3.3" stroke="#111" stroke-width="0.9" fill="none"/>
<path d="M31.5 252.7V412.8H230.2" stroke="#111" stroke-width="1.05" fill="none"/>
<path d="M31.5 253.2H229.7V412.5" stroke="#262626" stroke-width="1.05" fill="none"/>
<text class="tk" x="31.50" y="421.90" text-anchor="middle">0.0</text>
<text class="tk" x="45.66" y="421.90" text-anchor="middle">0.1</text>
<text class="tk" x="59.81" y="421.90" text-anchor="middle">0.2</text>
<text class="tk" x="73.97" y="421.90" text-anchor="middle">0.3</text>
<text class="tk" x="88.13" y="421.90" text-anchor="middle">0.4</text>
<text class="tk" x="102.29" y="421.90" text-anchor="middle">0.5</text>
<text class="tk" x="116.44" y="421.90" text-anchor="middle">0.6</text>
<text class="tk" x="130.60" y="421.90" text-anchor="middle">0.7</text>
<text class="tk" x="144.76" y="421.90" text-anchor="middle">0.8</text>
<text class="tk" x="158.91" y="421.90" text-anchor="middle">0.9</text>
<text class="tk" x="173.07" y="421.90" text-anchor="middle">1.0</text>
<text class="tk" x="187.23" y="421.90" text-anchor="middle">1.1</text>
<text class="tk" x="201.39" y="421.90" text-anchor="middle">1.2</text>
<text class="tk" x="215.54" y="421.90" text-anchor="middle">1.3</text>
<text class="tk" x="229.70" y="421.90" text-anchor="middle">1.4</text>
<text class="tk" x="28.70" y="415.50" text-anchor="end">0.0</text>
<text class="tk" x="28.70" y="392.74" text-anchor="end">1.0</text>
<text class="tk" x="28.70" y="369.99" text-anchor="end">2.0</text>
<text class="tk" x="28.70" y="347.23" text-anchor="end">3.0</text>
<text class="tk" x="28.70" y="324.47" text-anchor="end">4.0</text>
<text class="tk" x="28.70" y="301.71" text-anchor="end">5.0</text>
<text class="tk" x="28.70" y="278.96" text-anchor="end">6.0</text>
<text class="tk" x="28.70" y="256.20" text-anchor="end">7.0</text>
<text class="ax" x="131.60" y="434.00" text-anchor="middle">v</text>
<text class="ax" transform="translate(13.20 332.55) rotate(-90)" text-anchor="middle">R<tspan class="sub" dy="1.5">sl</tspan></text>
<rect x="37.3" y="256.7" width="87.8" height="51.2" fill="#fff" stroke="#555" stroke-width="0.7"/>
<path d="M37.70 261.90h13" stroke="#3c3c3c" stroke-width="0.6" stroke-opacity="0.8"/>
<rect x="42.25" y="259.95" width="3.90" height="3.90" fill="#3c3c3c"/>
<text class="lg" x="54.20" y="264.20"><tspan class="z">ζ</tspan><tspan class="sub" dy="1.4">T</tspan><tspan dy="-1.4"> = 0.0</tspan></text>
<path d="M37.70 272.10h13" stroke="#f23535" stroke-width="0.6" stroke-opacity="0.8"/>
<circle cx="44.20" cy="272.10" r="2.15" fill="#f23535"/>
<text class="lg" x="54.20" y="274.40"><tspan class="z">ζ</tspan><tspan class="sub" dy="1.4">T</tspan><tspan dy="-1.4"> = 0.1</tspan></text>
<path d="M37.70 282.30h13" stroke="#1a62e0" stroke-width="0.6" stroke-opacity="0.8"/>
<polygon points="44.20,279.45 41.63,284.07 46.76,284.07" fill="#1a62e0"/>
<text class="lg" x="54.20" y="284.60"><tspan class="z">ζ</tspan><tspan class="sub" dy="1.4">T</tspan><tspan dy="-1.4"> = 0.2</tspan></text>
<path d="M37.70 292.50h13" stroke="#22b060" stroke-width="0.6" stroke-opacity="0.8"/>
<polygon points="44.20,295.35 41.63,290.73 46.76,290.73" fill="#22b060"/>
<text class="lg" x="54.20" y="294.80"><tspan class="z">ζ</tspan><tspan class="sub" dy="1.4">T</tspan><tspan dy="-1.4"> = 0.3</tspan></text>
<path d="M37.70 302.70h13" stroke="#a25af0" stroke-width="0.6" stroke-opacity="0.8"/>
<polygon points="44.20,300.15 41.96,302.70 44.20,305.25 46.44,302.70" fill="#a25af0"/>
<text class="lg" x="54.20" y="305.00"><tspan class="z">ζ</tspan><tspan class="sub" dy="1.4">T</tspan><tspan dy="-1.4"> = 0.4</tspan></text>
<path d="M82.00 261.90h13" stroke="#c8900c" stroke-width="0.6" stroke-opacity="0.8"/>
<polygon points="85.61,261.90 90.52,259.59 90.52,264.21" fill="#c8900c"/>
<text class="lg" x="98.50" y="264.20"><tspan class="z">ζ</tspan><tspan class="sub" dy="1.4">T</tspan><tspan dy="-1.4"> = 0.5</tspan></text>
<path d="M82.00 272.10h13" stroke="#12c2c2" stroke-width="0.6" stroke-opacity="0.8"/>
<polygon points="91.39,272.10 86.48,269.79 86.48,274.41" fill="#12c2c2"/>
<text class="lg" x="98.50" y="274.40"><tspan class="z">ζ</tspan><tspan class="sub" dy="1.4">T</tspan><tspan dy="-1.4"> = 0.6</tspan></text>
<path d="M82.00 282.30h13" stroke="#7a3c3c" stroke-width="0.6" stroke-opacity="0.8"/>
<circle cx="88.50" cy="282.30" r="2.15" fill="#7a3c3c"/>
<text class="lg" x="98.50" y="284.60"><tspan class="z">ζ</tspan><tspan class="sub" dy="1.4">T</tspan><tspan dy="-1.4"> = 0.7</tspan></text>
<path d="M82.00 292.50h13" stroke="#808000" stroke-width="0.6" stroke-opacity="0.8"/>
<polygon points="88.50,289.70 89.49,291.14 91.16,291.63 90.10,293.02 90.15,294.77 88.50,294.18 86.85,294.77 86.90,293.02 85.84,291.63 87.51,291.14" fill="#808000"/>
<text class="lg" x="98.50" y="294.80"><tspan class="z">ζ</tspan><tspan class="sub" dy="1.4">T</tspan><tspan dy="-1.4"> = 0.8</tspan></text>
<text class="cap" x="124.80" y="467.20" text-anchor="middle" textLength="16.3" lengthAdjust="spacingAndGlyphs">(c)</text>
<path d="M354.26 253.2V412.5M368.41 253.2V412.5M382.57 253.2V412.5M396.73 253.2V412.5M410.89 253.2V412.5M425.04 253.2V412.5M439.20 253.2V412.5M453.36 253.2V412.5M467.51 253.2V412.5M481.67 253.2V412.5M495.83 253.2V412.5M509.99 253.2V412.5M524.14 253.2V412.5M340.1 389.74H538.3M340.1 366.99H538.3M340.1 344.23H538.3M340.1 321.47H538.3M340.1 298.71H538.3M340.1 275.96H538.3" stroke="#d4d4d4" stroke-width="0.6" fill="none"/>
<path d="M340.10 327.16L354.26 327.16L368.41 327.16L382.57 327.16L396.73 327.16L410.89 327.16L425.04 327.16L439.20 327.16L453.36 327.39L467.51 327.84L481.67 330.57L495.83 326.02L509.99 326.93L524.14 327.16L538.30 327.16" stroke="#3c3c3c" stroke-width="0.5" fill="none" stroke-opacity="0.15"/>
<rect x="338.15" y="325.21" width="3.90" height="3.90" fill="#3c3c3c"/>
<rect x="352.31" y="325.21" width="3.90" height="3.90" fill="#3c3c3c"/>
<rect x="366.46" y="325.21" width="3.90" height="3.90" fill="#3c3c3c"/>
<rect x="380.62" y="325.21" width="3.90" height="3.90" fill="#3c3c3c"/>
<rect x="394.78" y="325.21" width="3.90" height="3.90" fill="#3c3c3c"/>
<rect x="408.94" y="325.21" width="3.90" height="3.90" fill="#3c3c3c"/>
<rect x="423.09" y="325.21" width="3.90" height="3.90" fill="#3c3c3c"/>
<rect x="437.25" y="325.21" width="3.90" height="3.90" fill="#3c3c3c"/>
<rect x="451.41" y="325.44" width="3.90" height="3.90" fill="#3c3c3c"/>
<rect x="465.56" y="325.89" width="3.90" height="3.90" fill="#3c3c3c"/>
<rect x="479.72" y="328.62" width="3.90" height="3.90" fill="#3c3c3c"/>
<rect x="493.88" y="324.07" width="3.90" height="3.90" fill="#3c3c3c"/>
<rect x="508.04" y="324.98" width="3.90" height="3.90" fill="#3c3c3c"/>
<rect x="522.19" y="325.21" width="3.90" height="3.90" fill="#3c3c3c"/>
<rect x="536.35" y="325.21" width="3.90" height="3.90" fill="#3c3c3c"/>
<path d="M340.10 327.16L354.26 327.16L368.41 327.16L382.57 327.16L396.73 327.16L410.89 327.16L425.04 327.16L439.20 327.16L453.36 327.39L467.51 328.07L481.67 327.84L495.83 326.71L509.99 327.16L524.14 327.16L538.30 327.16" stroke="#f23535" stroke-width="0.5" fill="none" stroke-opacity="0.15"/>
<circle cx="340.10" cy="327.16" r="2.15" fill="#f23535"/>
<circle cx="354.26" cy="327.16" r="2.15" fill="#f23535"/>
<circle cx="368.41" cy="327.16" r="2.15" fill="#f23535"/>
<circle cx="382.57" cy="327.16" r="2.15" fill="#f23535"/>
<circle cx="396.73" cy="327.16" r="2.15" fill="#f23535"/>
<circle cx="410.89" cy="327.16" r="2.15" fill="#f23535"/>
<circle cx="425.04" cy="327.16" r="2.15" fill="#f23535"/>
<circle cx="439.20" cy="327.16" r="2.15" fill="#f23535"/>
<circle cx="453.36" cy="327.39" r="2.15" fill="#f23535"/>
<circle cx="467.51" cy="328.07" r="2.15" fill="#f23535"/>
<circle cx="481.67" cy="327.84" r="2.15" fill="#f23535"/>
<circle cx="495.83" cy="326.71" r="2.15" fill="#f23535"/>
<circle cx="509.99" cy="327.16" r="2.15" fill="#f23535"/>
<circle cx="524.14" cy="327.16" r="2.15" fill="#f23535"/>
<circle cx="538.30" cy="327.16" r="2.15" fill="#f23535"/>
<path d="M340.10 327.16L354.26 327.16L368.41 327.16L382.57 327.16L396.73 327.16L410.89 327.16L425.04 327.16L439.20 327.16L453.36 327.16L467.51 327.39L481.67 327.39L495.83 326.25L509.99 326.93L524.14 327.16L538.30 327.16" stroke="#1a62e0" stroke-width="0.5" fill="none" stroke-opacity="0.15"/>
<polygon points="340.10,324.31 337.54,328.93 342.67,328.93" fill="#1a62e0"/>
<polygon points="354.26,324.31 351.69,328.93 356.82,328.93" fill="#1a62e0"/>
<polygon points="368.41,324.31 365.85,328.93 370.98,328.93" fill="#1a62e0"/>
<polygon points="382.57,324.31 380.01,328.93 385.14,328.93" fill="#1a62e0"/>
<polygon points="396.73,324.31 394.16,328.93 399.29,328.93" fill="#1a62e0"/>
<polygon points="410.89,324.31 408.32,328.93 413.45,328.93" fill="#1a62e0"/>
<polygon points="425.04,324.31 422.48,328.93 427.61,328.93" fill="#1a62e0"/>
<polygon points="439.20,324.31 436.64,328.93 441.77,328.93" fill="#1a62e0"/>
<polygon points="453.36,324.31 450.79,328.93 455.92,328.93" fill="#1a62e0"/>
<polygon points="467.51,324.54 464.95,329.16 470.08,329.16" fill="#1a62e0"/>
<polygon points="481.67,324.54 479.11,329.16 484.24,329.16" fill="#1a62e0"/>
<polygon points="495.83,323.40 493.26,328.02 498.39,328.02" fill="#1a62e0"/>
<polygon points="509.99,324.08 507.42,328.70 512.55,328.70" fill="#1a62e0"/>
<polygon points="524.14,324.31 521.58,328.93 526.71,328.93" fill="#1a62e0"/>
<polygon points="538.30,324.31 535.73,328.93 540.87,328.93" fill="#1a62e0"/>
<path d="M340.10 327.16L354.26 327.16L368.41 327.16L382.57 327.16L396.73 327.16L410.89 327.16L425.04 327.16L439.20 327.16L453.36 327.16L467.51 327.39L481.67 327.16L495.83 326.71L509.99 326.93L524.14 327.16L538.30 327.16" stroke="#22b060" stroke-width="0.5" fill="none" stroke-opacity="0.15"/>
<polygon points="340.10,330.01 337.54,325.39 342.67,325.39" fill="#22b060"/>
<polygon points="354.26,330.01 351.69,325.39 356.82,325.39" fill="#22b060"/>
<polygon points="368.41,330.01 365.85,325.39 370.98,325.39" fill="#22b060"/>
<polygon points="382.57,330.01 380.01,325.39 385.14,325.39" fill="#22b060"/>
<polygon points="396.73,330.01 394.16,325.39 399.29,325.39" fill="#22b060"/>
<polygon points="410.89,330.01 408.32,325.39 413.45,325.39" fill="#22b060"/>
<polygon points="425.04,330.01 422.48,325.39 427.61,325.39" fill="#22b060"/>
<polygon points="439.20,330.01 436.64,325.39 441.77,325.39" fill="#22b060"/>
<polygon points="453.36,330.01 450.79,325.39 455.92,325.39" fill="#22b060"/>
<polygon points="467.51,330.24 464.95,325.62 470.08,325.62" fill="#22b060"/>
<polygon points="481.67,330.01 479.11,325.39 484.24,325.39" fill="#22b060"/>
<polygon points="495.83,329.56 493.26,324.94 498.39,324.94" fill="#22b060"/>
<polygon points="509.99,329.78 507.42,325.17 512.55,325.17" fill="#22b060"/>
<polygon points="524.14,330.01 521.58,325.39 526.71,325.39" fill="#22b060"/>
<polygon points="538.30,330.01 535.73,325.39 540.87,325.39" fill="#22b060"/>
<path d="M340.10 327.16L354.26 327.16L368.41 327.16L382.57 327.16L396.73 327.16L410.89 327.16L425.04 327.16L439.20 327.16L453.36 327.16L467.51 327.39L481.67 327.16L495.83 326.71L509.99 326.93L524.14 327.16L538.30 327.16" stroke="#a25af0" stroke-width="0.5" fill="none" stroke-opacity="0.15"/>
<polygon points="340.10,324.61 337.86,327.16 340.10,329.71 342.34,327.16" fill="#a25af0"/>
<polygon points="354.26,324.61 352.01,327.16 354.26,329.71 356.50,327.16" fill="#a25af0"/>
<polygon points="368.41,324.61 366.17,327.16 368.41,329.71 370.66,327.16" fill="#a25af0"/>
<polygon points="382.57,324.61 380.33,327.16 382.57,329.71 384.82,327.16" fill="#a25af0"/>
<polygon points="396.73,324.61 394.48,327.16 396.73,329.71 398.97,327.16" fill="#a25af0"/>
<polygon points="410.89,324.61 408.64,327.16 410.89,329.71 413.13,327.16" fill="#a25af0"/>
<polygon points="425.04,324.61 422.80,327.16 425.04,329.71 427.29,327.16" fill="#a25af0"/>
<polygon points="439.20,324.61 436.96,327.16 439.20,329.71 441.44,327.16" fill="#a25af0"/>
<polygon points="453.36,324.61 451.11,327.16 453.36,329.71 455.60,327.16" fill="#a25af0"/>
<polygon points="467.51,324.84 465.27,327.39 467.51,329.94 469.76,327.39" fill="#a25af0"/>
<polygon points="481.67,324.61 479.43,327.16 481.67,329.71 483.92,327.16" fill="#a25af0"/>
<polygon points="495.83,324.16 493.58,326.71 495.83,329.26 498.07,326.71" fill="#a25af0"/>
<polygon points="509.99,324.38 507.74,326.93 509.99,329.48 512.23,326.93" fill="#a25af0"/>
<polygon points="524.14,324.61 521.90,327.16 524.14,329.71 526.39,327.16" fill="#a25af0"/>
<polygon points="538.30,324.61 536.06,327.16 538.30,329.71 540.54,327.16" fill="#a25af0"/>
<path d="M340.10 327.16L354.26 327.16L368.41 327.16L382.57 327.16L396.73 327.16L410.89 327.16L425.04 327.16L439.20 327.16L453.36 327.16L467.51 327.39L481.67 327.16L495.83 326.71L509.99 326.93L524.14 327.16L538.30 327.16" stroke="#c8900c" stroke-width="0.5" fill="none" stroke-opacity="0.15"/>
<polygon points="337.35,327.16 342.03,324.96 342.03,329.36" fill="#c8900c"/>
<polygon points="351.51,327.16 356.18,324.96 356.18,329.36" fill="#c8900c"/>
<polygon points="365.66,327.16 370.34,324.96 370.34,329.36" fill="#c8900c"/>
<polygon points="379.82,327.16 384.50,324.96 384.50,329.36" fill="#c8900c"/>
<polygon points="393.98,327.16 398.65,324.96 398.65,329.36" fill="#c8900c"/>
<polygon points="408.14,327.16 412.81,324.96 412.81,329.36" fill="#c8900c"/>
<polygon points="422.29,327.16 426.97,324.96 426.97,329.36" fill="#c8900c"/>
<polygon points="436.45,327.16 441.13,324.96 441.13,329.36" fill="#c8900c"/>
<polygon points="450.61,327.16 455.28,324.96 455.28,329.36" fill="#c8900c"/>
<polygon points="464.76,327.39 469.44,325.19 469.44,329.59" fill="#c8900c"/>
<polygon points="478.92,327.16 483.60,324.96 483.60,329.36" fill="#c8900c"/>
<polygon points="493.08,326.71 497.75,324.51 497.75,328.91" fill="#c8900c"/>
<polygon points="507.24,326.93 511.91,324.73 511.91,329.13" fill="#c8900c"/>
<polygon points="521.39,327.16 526.07,324.96 526.07,329.36" fill="#c8900c"/>
<polygon points="535.55,327.16 540.22,324.96 540.22,329.36" fill="#c8900c"/>
<path d="M340.10 327.16L354.26 327.16L368.41 327.16L382.57 327.16L396.73 327.16L410.89 327.16L425.04 327.16L439.20 327.16L453.36 327.16L467.51 327.39L481.67 327.16L495.83 326.71L509.99 326.93L524.14 327.16L538.30 327.16" stroke="#12c2c2" stroke-width="0.5" fill="none" stroke-opacity="0.15"/>
<polygon points="342.85,327.16 338.18,324.96 338.18,329.36" fill="#12c2c2"/>
<polygon points="357.01,327.16 352.33,324.96 352.33,329.36" fill="#12c2c2"/>
<polygon points="371.16,327.16 366.49,324.96 366.49,329.36" fill="#12c2c2"/>
<polygon points="385.32,327.16 380.65,324.96 380.65,329.36" fill="#12c2c2"/>
<polygon points="399.48,327.16 394.80,324.96 394.80,329.36" fill="#12c2c2"/>
<polygon points="413.64,327.16 408.96,324.96 408.96,329.36" fill="#12c2c2"/>
<polygon points="427.79,327.16 423.12,324.96 423.12,329.36" fill="#12c2c2"/>
<polygon points="441.95,327.16 437.28,324.96 437.28,329.36" fill="#12c2c2"/>
<polygon points="456.11,327.16 451.43,324.96 451.43,329.36" fill="#12c2c2"/>
<polygon points="470.26,327.39 465.59,325.19 465.59,329.59" fill="#12c2c2"/>
<polygon points="484.42,327.16 479.75,324.96 479.75,329.36" fill="#12c2c2"/>
<polygon points="498.58,326.71 493.90,324.51 493.90,328.91" fill="#12c2c2"/>
<polygon points="512.74,326.93 508.06,324.73 508.06,329.13" fill="#12c2c2"/>
<polygon points="526.89,327.16 522.22,324.96 522.22,329.36" fill="#12c2c2"/>
<polygon points="541.05,327.16 536.38,324.96 536.38,329.36" fill="#12c2c2"/>
<path d="M340.10 327.16L354.26 327.16L368.41 327.16L382.57 327.16L396.73 327.16L410.89 327.16L425.04 327.16L439.20 327.16L453.36 327.16L467.51 327.39L481.67 327.16L495.83 326.71L509.99 326.93L524.14 327.16L538.30 327.16" stroke="#7a3c3c" stroke-width="0.5" fill="none" stroke-opacity="0.15"/>
<circle cx="340.10" cy="327.16" r="2.15" fill="#7a3c3c"/>
<circle cx="354.26" cy="327.16" r="2.15" fill="#7a3c3c"/>
<circle cx="368.41" cy="327.16" r="2.15" fill="#7a3c3c"/>
<circle cx="382.57" cy="327.16" r="2.15" fill="#7a3c3c"/>
<circle cx="396.73" cy="327.16" r="2.15" fill="#7a3c3c"/>
<circle cx="410.89" cy="327.16" r="2.15" fill="#7a3c3c"/>
<circle cx="425.04" cy="327.16" r="2.15" fill="#7a3c3c"/>
<circle cx="439.20" cy="327.16" r="2.15" fill="#7a3c3c"/>
<circle cx="453.36" cy="327.16" r="2.15" fill="#7a3c3c"/>
<circle cx="467.51" cy="327.39" r="2.15" fill="#7a3c3c"/>
<circle cx="481.67" cy="327.16" r="2.15" fill="#7a3c3c"/>
<circle cx="495.83" cy="326.71" r="2.15" fill="#7a3c3c"/>
<circle cx="509.99" cy="326.93" r="2.15" fill="#7a3c3c"/>
<circle cx="524.14" cy="327.16" r="2.15" fill="#7a3c3c"/>
<circle cx="538.30" cy="327.16" r="2.15" fill="#7a3c3c"/>
<path d="M340.10 327.16L354.26 327.16L368.41 327.16L382.57 327.16L396.73 327.16L410.89 327.16L425.04 327.16L439.20 327.16L453.36 327.16L467.51 327.39L481.67 327.16L495.83 326.71L509.99 326.93L524.14 327.16L538.30 327.16" stroke="#d0aa3c" stroke-width="0.5" fill="none" stroke-opacity="0.9"/>
<polygon points="340.10,324.36 341.09,325.80 342.76,326.30 341.70,327.68 341.75,329.43 340.10,328.84 338.45,329.43 338.50,327.68 337.44,326.30 339.11,325.80" fill="#808000"/>
<polygon points="354.26,324.36 355.24,325.80 356.92,326.30 355.85,327.68 355.90,329.43 354.26,328.84 352.61,329.43 352.66,327.68 351.59,326.30 353.27,325.80" fill="#808000"/>
<polygon points="368.41,324.36 369.40,325.80 371.08,326.30 370.01,327.68 370.06,329.43 368.41,328.84 366.77,329.43 366.82,327.68 365.75,326.30 367.43,325.80" fill="#808000"/>
<polygon points="382.57,324.36 383.56,325.80 385.23,326.30 384.17,327.68 384.22,329.43 382.57,328.84 380.93,329.43 380.97,327.68 379.91,326.30 381.58,325.80" fill="#808000"/>
<polygon points="396.73,324.36 397.72,325.80 399.39,326.30 398.33,327.68 398.37,329.43 396.73,328.84 395.08,329.43 395.13,327.68 394.07,326.30 395.74,325.80" fill="#808000"/>
<polygon points="410.89,324.36 411.87,325.80 413.55,326.30 412.48,327.68 412.53,329.43 410.89,328.84 409.24,329.43 409.29,327.68 408.22,326.30 409.90,325.80" fill="#808000"/>
<polygon points="425.04,324.36 426.03,325.80 427.71,326.30 426.64,327.68 426.69,329.43 425.04,328.84 423.40,329.43 423.45,327.68 422.38,326.30 424.06,325.80" fill="#808000"/>
<polygon points="439.20,324.36 440.19,325.80 441.86,326.30 440.80,327.68 440.85,329.43 439.20,328.84 437.55,329.43 437.60,327.68 436.54,326.30 438.21,325.80" fill="#808000"/>
<polygon points="453.36,324.36 454.34,325.80 456.02,326.30 454.95,327.68 455.00,329.43 453.36,328.84 451.71,329.43 451.76,327.68 450.69,326.30 452.37,325.80" fill="#808000"/>
<polygon points="467.51,324.59 468.50,326.03 470.18,326.52 469.11,327.91 469.16,329.65 467.51,329.07 465.87,329.65 465.92,327.91 464.85,326.52 466.53,326.03" fill="#808000"/>
<polygon points="481.67,324.36 482.66,325.80 484.33,326.30 483.27,327.68 483.32,329.43 481.67,328.84 480.03,329.43 480.07,327.68 479.01,326.30 480.68,325.80" fill="#808000"/>
<polygon points="495.83,323.91 496.82,325.35 498.49,325.84 497.43,327.22 497.47,328.97 495.83,328.39 494.18,328.97 494.23,327.22 493.17,325.84 494.84,325.35" fill="#808000"/>
<polygon points="509.99,324.13 510.97,325.57 512.65,326.07 511.58,327.45 511.63,329.20 509.99,328.61 508.34,329.20 508.39,327.45 507.32,326.07 509.00,325.57" fill="#808000"/>
<polygon points="524.14,324.36 525.13,325.80 526.81,326.30 525.74,327.68 525.79,329.43 524.14,328.84 522.50,329.43 522.55,327.68 521.48,326.30 523.16,325.80" fill="#808000"/>
<polygon points="538.30,324.36 539.29,325.80 540.96,326.30 539.90,327.68 539.95,329.43 538.30,328.84 536.65,329.43 536.70,327.68 535.64,326.30 537.31,325.80" fill="#808000"/>
<path d="M340.10 412.5v-3M354.26 412.5v-3M368.41 412.5v-3M382.57 412.5v-3M396.73 412.5v-3M410.89 412.5v-3M425.04 412.5v-3M439.20 412.5v-3M453.36 412.5v-3M467.51 412.5v-3M481.67 412.5v-3M495.83 412.5v-3M509.99 412.5v-3M524.14 412.5v-3M538.30 412.5v-3M340.1 412.50h3.3M340.1 408.71h1.7M340.1 404.91h1.7M340.1 401.12h1.7M340.1 397.33h1.7M340.1 393.54h1.7M340.1 389.74h3.3M340.1 385.95h1.7M340.1 382.16h1.7M340.1 378.36h1.7M340.1 374.57h1.7M340.1 370.78h1.7M340.1 366.99h3.3M340.1 363.19h1.7M340.1 359.40h1.7M340.1 355.61h1.7M340.1 351.81h1.7M340.1 348.02h1.7M340.1 344.23h3.3M340.1 340.44h1.7M340.1 336.64h1.7M340.1 332.85h1.7M340.1 329.06h1.7M340.1 325.26h1.7M340.1 321.47h3.3M340.1 317.68h1.7M340.1 313.89h1.7M340.1 310.09h1.7M340.1 306.30h1.7M340.1 302.51h1.7M340.1 298.71h3.3M340.1 294.92h1.7M340.1 291.13h1.7M340.1 287.34h1.7M340.1 283.54h1.7M340.1 279.75h1.7M340.1 275.96h3.3M340.1 272.16h1.7M340.1 268.37h1.7M340.1 264.58h1.7M340.1 260.79h1.7M340.1 256.99h1.7M340.1 253.20h3.3" stroke="#111" stroke-width="0.9" fill="none"/>
<path d="M340.1 252.7V412.8H538.8" stroke="#111" stroke-width="1.05" fill="none"/>
<path d="M340.1 253.2H538.3V412.5" stroke="#262626" stroke-width="1.05" fill="none"/>
<text class="tk" x="340.10" y="421.90" text-anchor="middle">0.0</text>
<text class="tk" x="354.26" y="421.90" text-anchor="middle">0.1</text>
<text class="tk" x="368.41" y="421.90" text-anchor="middle">0.2</text>
<text class="tk" x="382.57" y="421.90" text-anchor="middle">0.3</text>
<text class="tk" x="396.73" y="421.90" text-anchor="middle">0.4</text>
<text class="tk" x="410.89" y="421.90" text-anchor="middle">0.5</text>
<text class="tk" x="425.04" y="421.90" text-anchor="middle">0.6</text>
<text class="tk" x="439.20" y="421.90" text-anchor="middle">0.7</text>
<text class="tk" x="453.36" y="421.90" text-anchor="middle">0.8</text>
<text class="tk" x="467.51" y="421.90" text-anchor="middle">0.9</text>
<text class="tk" x="481.67" y="421.90" text-anchor="middle">1.0</text>
<text class="tk" x="495.83" y="421.90" text-anchor="middle">1.1</text>
<text class="tk" x="509.99" y="421.90" text-anchor="middle">1.2</text>
<text class="tk" x="524.14" y="421.90" text-anchor="middle">1.3</text>
<text class="tk" x="538.30" y="421.90" text-anchor="middle">1.4</text>
<text class="tk" x="337.30" y="415.50" text-anchor="end">0.0</text>
<text class="tk" x="337.30" y="392.74" text-anchor="end">1.0</text>
<text class="tk" x="337.30" y="369.99" text-anchor="end">2.0</text>
<text class="tk" x="337.30" y="347.23" text-anchor="end">3.0</text>
<text class="tk" x="337.30" y="324.47" text-anchor="end">4.0</text>
<text class="tk" x="337.30" y="301.71" text-anchor="end">5.0</text>
<text class="tk" x="337.30" y="278.96" text-anchor="end">6.0</text>
<text class="tk" x="337.30" y="256.20" text-anchor="end">7.0</text>
<text class="ax" x="440.20" y="434.00" text-anchor="middle">v</text>
<text class="ax" transform="translate(322.20 333.75) rotate(-90)" text-anchor="middle">R<tspan class="sub" dy="1.5">l</tspan></text>
<rect x="345.90000000000003" y="256.7" width="87.8" height="51.2" fill="#fff" stroke="#555" stroke-width="0.7"/>
<path d="M346.30 261.90h13" stroke="#3c3c3c" stroke-width="0.6" stroke-opacity="0.8"/>
<rect x="350.85" y="259.95" width="3.90" height="3.90" fill="#3c3c3c"/>
<text class="lg" x="362.80" y="264.20"><tspan class="z">ζ</tspan><tspan class="sub" dy="1.4">T</tspan><tspan dy="-1.4"> = 0.0</tspan></text>
<path d="M346.30 272.10h13" stroke="#f23535" stroke-width="0.6" stroke-opacity="0.8"/>
<circle cx="352.80" cy="272.10" r="2.15" fill="#f23535"/>
<text class="lg" x="362.80" y="274.40"><tspan class="z">ζ</tspan><tspan class="sub" dy="1.4">T</tspan><tspan dy="-1.4"> = 0.1</tspan></text>
<path d="M346.30 282.30h13" stroke="#1a62e0" stroke-width="0.6" stroke-opacity="0.8"/>
<polygon points="352.80,279.45 350.24,284.07 355.37,284.07" fill="#1a62e0"/>
<text class="lg" x="362.80" y="284.60"><tspan class="z">ζ</tspan><tspan class="sub" dy="1.4">T</tspan><tspan dy="-1.4"> = 0.2</tspan></text>
<path d="M346.30 292.50h13" stroke="#22b060" stroke-width="0.6" stroke-opacity="0.8"/>
<polygon points="352.80,295.35 350.24,290.73 355.37,290.73" fill="#22b060"/>
<text class="lg" x="362.80" y="294.80"><tspan class="z">ζ</tspan><tspan class="sub" dy="1.4">T</tspan><tspan dy="-1.4"> = 0.3</tspan></text>
<path d="M346.30 302.70h13" stroke="#a25af0" stroke-width="0.6" stroke-opacity="0.8"/>
<polygon points="352.80,300.15 350.56,302.70 352.80,305.25 355.04,302.70" fill="#a25af0"/>
<text class="lg" x="362.80" y="305.00"><tspan class="z">ζ</tspan><tspan class="sub" dy="1.4">T</tspan><tspan dy="-1.4"> = 0.4</tspan></text>
<path d="M390.60 261.90h13" stroke="#c8900c" stroke-width="0.6" stroke-opacity="0.8"/>
<polygon points="394.21,261.90 399.12,259.59 399.12,264.21" fill="#c8900c"/>
<text class="lg" x="407.10" y="264.20"><tspan class="z">ζ</tspan><tspan class="sub" dy="1.4">T</tspan><tspan dy="-1.4"> = 0.5</tspan></text>
<path d="M390.60 272.10h13" stroke="#12c2c2" stroke-width="0.6" stroke-opacity="0.8"/>
<polygon points="399.99,272.10 395.08,269.79 395.08,274.41" fill="#12c2c2"/>
<text class="lg" x="407.10" y="274.40"><tspan class="z">ζ</tspan><tspan class="sub" dy="1.4">T</tspan><tspan dy="-1.4"> = 0.6</tspan></text>
<path d="M390.60 282.30h13" stroke="#7a3c3c" stroke-width="0.6" stroke-opacity="0.8"/>
<circle cx="397.10" cy="282.30" r="2.15" fill="#7a3c3c"/>
<text class="lg" x="407.10" y="284.60"><tspan class="z">ζ</tspan><tspan class="sub" dy="1.4">T</tspan><tspan dy="-1.4"> = 0.7</tspan></text>
<path d="M390.60 292.50h13" stroke="#808000" stroke-width="0.6" stroke-opacity="0.8"/>
<polygon points="397.10,289.70 398.09,291.14 399.76,291.63 398.70,293.02 398.75,294.77 397.10,294.18 395.45,294.77 395.50,293.02 394.44,291.63 396.11,291.14" fill="#808000"/>
<text class="lg" x="407.10" y="294.80"><tspan class="z">ζ</tspan><tspan class="sub" dy="1.4">T</tspan><tspan dy="-1.4"> = 0.8</tspan></text>
<text class="cap" x="433.80" y="467.20" text-anchor="middle" textLength="20" lengthAdjust="spacingAndGlyphs">(d)</text>
</svg>
</body></html>
